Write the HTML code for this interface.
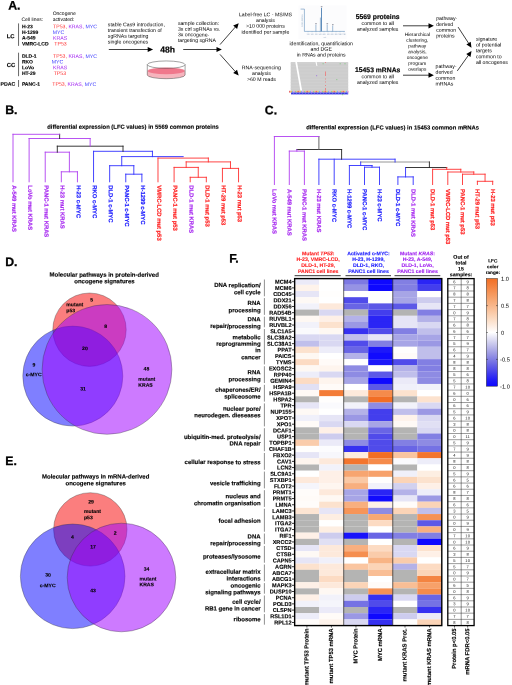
<!DOCTYPE html>
<html><head><meta charset="utf-8"><title>Figure</title>
<style>
html,body{margin:0;padding:0;background:#fff;}
body{width:512px;height:685px;overflow:hidden;}
svg{display:block;text-rendering:geometricPrecision;font-family:'Liberation Sans', Arial, sans-serif;}
</style></head><body>
<svg width="512" height="685" viewBox="0 0 512 685">
<rect width="512" height="685" fill="#fff"/>
<g>
<text x="8.20" y="9.60" transform="rotate(0.05 8.20 9.60)" font-size="12.3" font-weight="bold" fill="#000" text-anchor="start"  stroke="#000" stroke-width="0.271">A.</text>
<text x="21.50" y="20.90" transform="rotate(0.05 21.50 20.90)" font-size="5.0" font-weight="normal" fill="#000" text-anchor="start" >Cell lines:</text>
<text x="52.70" y="14.90" transform="rotate(0.05 52.70 14.90)" font-size="5.0" font-weight="normal" fill="#000" text-anchor="start" >Oncogene</text>
<text x="52.70" y="20.90" transform="rotate(0.05 52.70 20.90)" font-size="5.0" font-weight="normal" fill="#000" text-anchor="start" >activated:</text>
<text x="21.90" y="28.20" transform="rotate(0.05 21.90 28.20)" font-size="5.0" font-weight="bold" fill="#000" text-anchor="start"  stroke="#000" stroke-width="0.110">H-23</text>
<text x="53.1" y="28.27" transform="rotate(0.05 53.1 28.27)" font-size="5.2" xml:space="preserve"><tspan fill="#ff2e2e">TP53,</tspan> <tspan fill="#a020f0">KRAS,</tspan> <tspan fill="#3a3aff">MYC</tspan></text>
<text x="21.90" y="34.00" transform="rotate(0.05 21.90 34.00)" font-size="5.0" font-weight="bold" fill="#000" text-anchor="start"  stroke="#000" stroke-width="0.110">H-1299</text>
<text x="52.7" y="34.07" transform="rotate(0.05 52.7 34.07)" font-size="5.2" xml:space="preserve"><tspan fill="#3a3aff">MYC</tspan></text>
<text x="21.90" y="39.60" transform="rotate(0.05 21.90 39.60)" font-size="5.0" font-weight="bold" fill="#000" text-anchor="start"  stroke="#000" stroke-width="0.110">A-549</text>
<text x="53.1" y="39.67" transform="rotate(0.05 53.1 39.67)" font-size="5.2" xml:space="preserve"><tspan fill="#a020f0">KRAS</tspan></text>
<text x="21.90" y="45.40" transform="rotate(0.05 21.90 45.40)" font-size="5.0" font-weight="bold" fill="#000" text-anchor="start"  stroke="#000" stroke-width="0.110">VMRC-LCD</text>
<text x="54.3" y="45.47" transform="rotate(0.05 54.3 45.47)" font-size="5.2" xml:space="preserve"><tspan fill="#ff2e2e">TP53</tspan></text>
<text x="21.90" y="57.80" transform="rotate(0.05 21.90 57.80)" font-size="5.0" font-weight="bold" fill="#000" text-anchor="start"  stroke="#000" stroke-width="0.110">DLD-1</text>
<text x="53.1" y="57.87" transform="rotate(0.05 53.1 57.87)" font-size="5.2" xml:space="preserve"><tspan fill="#ff2e2e">TP53,</tspan> <tspan fill="#a020f0">KRAS,</tspan> <tspan fill="#3a3aff">MYC</tspan></text>
<text x="21.90" y="63.50" transform="rotate(0.05 21.90 63.50)" font-size="5.0" font-weight="bold" fill="#000" text-anchor="start"  stroke="#000" stroke-width="0.110">RKO</text>
<text x="51.8" y="63.57" transform="rotate(0.05 51.8 63.57)" font-size="5.2" xml:space="preserve"><tspan fill="#3a3aff">MYC</tspan></text>
<text x="21.90" y="69.20" transform="rotate(0.05 21.90 69.20)" font-size="5.0" font-weight="bold" fill="#000" text-anchor="start"  stroke="#000" stroke-width="0.110">LoVo</text>
<text x="53.1" y="69.27" transform="rotate(0.05 53.1 69.27)" font-size="5.2" xml:space="preserve"><tspan fill="#a020f0">KRAS</tspan></text>
<text x="21.90" y="75.00" transform="rotate(0.05 21.90 75.00)" font-size="5.0" font-weight="bold" fill="#000" text-anchor="start"  stroke="#000" stroke-width="0.110">HT-29</text>
<text x="53.7" y="75.07" transform="rotate(0.05 53.7 75.07)" font-size="5.2" xml:space="preserve"><tspan fill="#ff2e2e">TP53</tspan></text>
<text x="21.90" y="85.80" transform="rotate(0.05 21.90 85.80)" font-size="5.0" font-weight="bold" fill="#000" text-anchor="start"  stroke="#000" stroke-width="0.110">PANC-1</text>
<text x="52.3" y="85.87" transform="rotate(0.05 52.3 85.87)" font-size="5.2" xml:space="preserve"><tspan fill="#ff2e2e">TP53,</tspan> <tspan fill="#a020f0">KRAS,</tspan> <tspan fill="#3a3aff">MYC</tspan></text>
<text x="6.80" y="38.21" transform="rotate(0.05 6.80 38.21)" font-size="5.85" font-weight="bold" fill="#000" text-anchor="start"  stroke="#000" stroke-width="0.129">LC</text>
<text x="6.80" y="66.91" transform="rotate(0.05 6.80 66.91)" font-size="5.85" font-weight="bold" fill="#000" text-anchor="start"  stroke="#000" stroke-width="0.129">CC</text>
<text x="0.60" y="85.87" transform="rotate(0.05 0.60 85.87)" font-size="5.2" font-weight="bold" fill="#000" text-anchor="start"  stroke="#000" stroke-width="0.114">PDAC</text>
<line x1="18.55" y1="23.40" x2="18.55" y2="45.90" stroke="#000" stroke-width="0.6" />
<line x1="18.55" y1="52.70" x2="18.55" y2="76.20" stroke="#000" stroke-width="0.6" />
<line x1="18.55" y1="80.00" x2="18.55" y2="86.90" stroke="#000" stroke-width="0.6" />
<text x="107.80" y="26.17" transform="rotate(0.05 107.80 26.17)" font-size="5.2" font-weight="normal" fill="#000" text-anchor="start" >stable Cas9 introduction,</text>
<text x="107.80" y="31.92" transform="rotate(0.05 107.80 31.92)" font-size="5.2" font-weight="normal" fill="#000" text-anchor="start" >transient transfection of</text>
<text x="107.80" y="37.67" transform="rotate(0.05 107.80 37.67)" font-size="5.2" font-weight="normal" fill="#000" text-anchor="start" >sgRNAs targeting</text>
<text x="107.80" y="43.42" transform="rotate(0.05 107.80 43.42)" font-size="5.2" font-weight="normal" fill="#000" text-anchor="start" >single oncogenes</text>
<line x1="108.80" y1="49.50" x2="148.20" y2="49.50" stroke="#000" stroke-width="0.75" />
<polygon points="153.10,49.50 147.70,52.10 147.70,46.90" fill="#000"/>
<text x="160.20" y="52.40" transform="rotate(0.05 160.20 52.40)" font-size="8.6" font-weight="bold" fill="#000" text-anchor="start"  stroke="#000" stroke-width="0.189">48h</text>
<path d="M147.29999999999998,75 A18.9,3.7 0 0 0 185.1,75 L185.1,71 A18.9,3.4000000000000004 0 0 0 147.29999999999998,71 Z" fill="#f6b4bd"/>
<ellipse cx="166.2" cy="71" rx="18.299999999999997" ry="3.3000000000000003" fill="#f0788c"/>
<ellipse cx="166.2" cy="64.65" rx="18.9" ry="3.7" fill="none" stroke="#444" stroke-width="0.5"/>
<path d="M147.29999999999998,64.65 L147.29999999999998,75 A18.9,3.7 0 0 0 185.1,75 L185.1,64.65" fill="none" stroke="#444" stroke-width="0.5"/>
<text x="177.90" y="25.07" transform="rotate(0.05 177.90 25.07)" font-size="5.2" font-weight="normal" fill="#000" text-anchor="start" >sample collection:</text>
<text x="177.90" y="30.72" transform="rotate(0.05 177.90 30.72)" font-size="5.2" font-weight="normal" fill="#000" text-anchor="start" >3x ctrl sgRNAs vs.</text>
<text x="177.90" y="36.37" transform="rotate(0.05 177.90 36.37)" font-size="5.2" font-weight="normal" fill="#000" text-anchor="start" >3x oncogene-</text>
<text x="177.90" y="42.02" transform="rotate(0.05 177.90 42.02)" font-size="5.2" font-weight="normal" fill="#000" text-anchor="start" >targeting sgRNA</text>
<line x1="183.20" y1="49.50" x2="217.00" y2="49.50" stroke="#000" stroke-width="0.75" />
<polygon points="221.90,49.50 216.50,52.10 216.50,46.90" fill="#000"/>
<line x1="220.00" y1="44.60" x2="235.48" y2="26.89" stroke="#000" stroke-width="0.75" />
<polygon points="238.70,23.20 237.10,28.98 233.19,25.56" fill="#000"/>
<line x1="220.00" y1="54.40" x2="235.44" y2="71.74" stroke="#000" stroke-width="0.75" />
<polygon points="238.70,75.40 233.17,73.10 237.05,69.64" fill="#000"/>
<text x="265.40" y="16.17" transform="rotate(0.05 265.40 16.17)" font-size="5.2" font-weight="normal" fill="#000" text-anchor="middle" >Label-free LC - MS/MS</text>
<text x="265.40" y="22.02" transform="rotate(0.05 265.40 22.02)" font-size="5.2" font-weight="normal" fill="#000" text-anchor="middle" >analysis</text>
<text x="265.40" y="27.87" transform="rotate(0.05 265.40 27.87)" font-size="5.2" font-weight="normal" fill="#000" text-anchor="middle" >&gt;10 000 proteins</text>
<text x="265.40" y="33.72" transform="rotate(0.05 265.40 33.72)" font-size="5.2" font-weight="normal" fill="#000" text-anchor="middle" >identified per sample</text>
<text x="261.40" y="69.27" transform="rotate(0.05 261.40 69.27)" font-size="5.2" font-weight="normal" fill="#000" text-anchor="middle" >RNA-sequencing</text>
<text x="261.40" y="75.12" transform="rotate(0.05 261.40 75.12)" font-size="5.2" font-weight="normal" fill="#000" text-anchor="middle" >analysis</text>
<text x="261.40" y="80.97" transform="rotate(0.05 261.40 80.97)" font-size="5.2" font-weight="normal" fill="#000" text-anchor="middle" >&gt;60 M reads</text>
<rect x="298.5" y="5.5" width="48" height="33.5" fill="#fcfcfd"/>
<line x1="304.40" y1="9.10" x2="304.40" y2="31.40" stroke="#5f8dbb" stroke-width="0.6" />
<line x1="304.40" y1="31.40" x2="344.80" y2="31.40" stroke="#5f8dbb" stroke-width="0.6" />
<line x1="300.60" y1="9.10" x2="304.40" y2="9.10" stroke="#5f8dbb" stroke-width="0.6" />
<line x1="315.90" y1="24.60" x2="315.90" y2="31.40" stroke="#5f8dbb" stroke-width="0.6" />
<line x1="320.40" y1="17.60" x2="320.40" y2="31.40" stroke="#5f8dbb" stroke-width="0.6" />
<line x1="321.50" y1="7.80" x2="321.50" y2="31.40" stroke="#5f8dbb" stroke-width="1.0" />
<line x1="327.20" y1="24.60" x2="327.20" y2="31.40" stroke="#5f8dbb" stroke-width="0.6" />
<line x1="332.70" y1="25.60" x2="332.70" y2="31.40" stroke="#5f8dbb" stroke-width="0.6" />
<rect x="315.2" y="23.5" width="1.6" height="0.6" fill="#556"/>
<rect x="320.8" y="6.5" width="1.6" height="0.6" fill="#556"/>
<rect x="326.5" y="23.5" width="1.6" height="0.6" fill="#556"/>
<rect x="332.0" y="24.5" width="1.6" height="0.6" fill="#556"/>
<line x1="308.00" y1="31.40" x2="308.00" y2="32.30" stroke="#5f8dbb" stroke-width="0.3" />
<line x1="312.00" y1="31.40" x2="312.00" y2="32.30" stroke="#5f8dbb" stroke-width="0.3" />
<line x1="316.00" y1="31.40" x2="316.00" y2="32.30" stroke="#5f8dbb" stroke-width="0.3" />
<line x1="320.00" y1="31.40" x2="320.00" y2="32.30" stroke="#5f8dbb" stroke-width="0.3" />
<line x1="324.00" y1="31.40" x2="324.00" y2="32.30" stroke="#5f8dbb" stroke-width="0.3" />
<line x1="328.00" y1="31.40" x2="328.00" y2="32.30" stroke="#5f8dbb" stroke-width="0.3" />
<line x1="332.00" y1="31.40" x2="332.00" y2="32.30" stroke="#5f8dbb" stroke-width="0.3" />
<line x1="336.00" y1="31.40" x2="336.00" y2="32.30" stroke="#5f8dbb" stroke-width="0.3" />
<line x1="340.00" y1="31.40" x2="340.00" y2="32.30" stroke="#5f8dbb" stroke-width="0.3" />
<line x1="344.00" y1="31.40" x2="344.00" y2="32.30" stroke="#5f8dbb" stroke-width="0.3" />
<text x="308.00" y="34.70" transform="rotate(0.05 308.00 34.70)" font-size="1.5" font-weight="normal" fill="#5f7fa4" text-anchor="middle" >200</text>
<text x="312.00" y="34.70" transform="rotate(0.05 312.00 34.70)" font-size="1.5" font-weight="normal" fill="#5f7fa4" text-anchor="middle" >300</text>
<text x="316.00" y="34.70" transform="rotate(0.05 316.00 34.70)" font-size="1.5" font-weight="normal" fill="#5f7fa4" text-anchor="middle" >400</text>
<text x="320.00" y="34.70" transform="rotate(0.05 320.00 34.70)" font-size="1.5" font-weight="normal" fill="#5f7fa4" text-anchor="middle" >500</text>
<text x="324.00" y="34.70" transform="rotate(0.05 324.00 34.70)" font-size="1.5" font-weight="normal" fill="#5f7fa4" text-anchor="middle" >600</text>
<text x="328.00" y="34.70" transform="rotate(0.05 328.00 34.70)" font-size="1.5" font-weight="normal" fill="#5f7fa4" text-anchor="middle" >700</text>
<text x="332.00" y="34.70" transform="rotate(0.05 332.00 34.70)" font-size="1.5" font-weight="normal" fill="#5f7fa4" text-anchor="middle" >800</text>
<text x="336.00" y="34.70" transform="rotate(0.05 336.00 34.70)" font-size="1.5" font-weight="normal" fill="#5f7fa4" text-anchor="middle" >900</text>
<text x="340.00" y="34.70" transform="rotate(0.05 340.00 34.70)" font-size="1.5" font-weight="normal" fill="#5f7fa4" text-anchor="middle" >1000</text>
<text x="344.00" y="34.70" transform="rotate(0.05 344.00 34.70)" font-size="1.5" font-weight="normal" fill="#5f7fa4" text-anchor="middle" >1100</text>
<text x="324.90" y="37.90" transform="rotate(0.05 324.90 37.90)" font-size="1.6" font-weight="normal" fill="#5f7fa4" text-anchor="middle" >m/z</text>
<text transform="translate(302.4,20.5) rotate(-89.95)" font-size="1.4" fill="#7f9bbb" text-anchor="middle">Relative abundance</text>
<text x="321.20" y="45.17" transform="rotate(0.05 321.20 45.17)" font-size="5.2" font-weight="normal" fill="#000" text-anchor="middle" >identification, quantificiation</text>
<text x="321.20" y="50.82" transform="rotate(0.05 321.20 50.82)" font-size="5.2" font-weight="normal" fill="#000" text-anchor="middle" >and DGE</text>
<text x="321.20" y="56.47" transform="rotate(0.05 321.20 56.47)" font-size="5.2" font-weight="normal" fill="#000" text-anchor="middle" >in RNAs and proteins</text>
<rect x="290.7" y="62.1" width="57.5" height="28.7" fill="#cdcdcd"/>
<rect x="290.7" y="63.50" width="57.5" height="0.4" fill="#d4d4d4"/>
<rect x="290.7" y="66.60" width="57.5" height="0.4" fill="#d4d4d4"/>
<rect x="290.7" y="69.70" width="57.5" height="0.4" fill="#d4d4d4"/>
<rect x="290.7" y="72.80" width="57.5" height="0.4" fill="#d4d4d4"/>
<rect x="290.7" y="75.90" width="57.5" height="0.4" fill="#d4d4d4"/>
<rect x="290.7" y="79.00" width="57.5" height="0.4" fill="#d4d4d4"/>
<rect x="290.7" y="82.10" width="57.5" height="0.4" fill="#d4d4d4"/>
<rect x="290.7" y="85.20" width="57.5" height="0.4" fill="#d4d4d4"/>
<rect x="290.7" y="88.30" width="57.5" height="0.4" fill="#d4d4d4"/>
<polygon points="295.3,62.1 297.0,62.1 302.2,90.8 300.4,90.8" fill="#fff"/>
<polygon points="315.5,62.1 316.6,62.1 317.4,66 316.5,66" fill="#fff"/>
<line x1="325.50" y1="62.10" x2="325.50" y2="63.00" stroke="#f06868" stroke-width="0.7" />
<line x1="325.50" y1="71.50" x2="325.50" y2="76.00" stroke="#f06868" stroke-width="0.7" />
<line x1="325.50" y1="78.50" x2="325.50" y2="79.50" stroke="#f06868" stroke-width="0.7" />
<line x1="325.50" y1="81.50" x2="325.50" y2="82.50" stroke="#f06868" stroke-width="0.7" />
<line x1="325.50" y1="85.00" x2="325.50" y2="86.00" stroke="#f06868" stroke-width="0.7" />
<line x1="325.50" y1="88.00" x2="325.50" y2="90.50" stroke="#f06868" stroke-width="0.7" />
<rect x="322.6" y="63.4" width="1" height="0.8" fill="#6ec56e"/>
<rect x="339.7" y="63.4" width="1" height="0.8" fill="#6ec56e"/>
<rect x="344.5" y="63.4" width="1" height="0.8" fill="#6ec56e"/>
<rect x="336.3" y="79.3" width="1" height="0.8" fill="#6ec56e"/>
<rect x="316.2" y="75.2" width="0.9" height="1" fill="#9a6adf"/>
<rect x="289.00" y="90.8" width="1.49" height="1.8" fill="#e86a6a"/>
<rect x="290.49" y="90.8" width="1.49" height="1.8" fill="#e8c050"/>
<rect x="291.98" y="90.8" width="1.49" height="1.8" fill="#7fb0e8"/>
<rect x="293.47" y="90.8" width="1.49" height="1.8" fill="#e88fd0"/>
<rect x="294.96" y="90.8" width="1.49" height="1.8" fill="#8ed08e"/>
<rect x="296.45" y="90.8" width="1.49" height="1.8" fill="#e8a060"/>
<rect x="297.94" y="90.8" width="1.49" height="1.8" fill="#e86a6a"/>
<rect x="299.43" y="90.8" width="1.49" height="1.8" fill="#e8c050"/>
<rect x="300.92" y="90.8" width="1.49" height="1.8" fill="#7fb0e8"/>
<rect x="302.41" y="90.8" width="1.49" height="1.8" fill="#e88fd0"/>
<rect x="303.90" y="90.8" width="1.49" height="1.8" fill="#8ed08e"/>
<rect x="305.39" y="90.8" width="1.49" height="1.8" fill="#e8a060"/>
<rect x="306.88" y="90.8" width="1.49" height="1.8" fill="#e86a6a"/>
<rect x="308.37" y="90.8" width="1.49" height="1.8" fill="#e8c050"/>
<rect x="309.86" y="90.8" width="1.49" height="1.8" fill="#7fb0e8"/>
<rect x="311.35" y="90.8" width="1.49" height="1.8" fill="#e88fd0"/>
<rect x="312.84" y="90.8" width="1.49" height="1.8" fill="#8ed08e"/>
<rect x="314.33" y="90.8" width="1.49" height="1.8" fill="#e8a060"/>
<rect x="315.82" y="90.8" width="1.49" height="1.8" fill="#e86a6a"/>
<rect x="317.31" y="90.8" width="1.49" height="1.8" fill="#e8c050"/>
<rect x="318.80" y="90.8" width="1.49" height="1.8" fill="#7fb0e8"/>
<rect x="320.29" y="90.8" width="1.49" height="1.8" fill="#e88fd0"/>
<rect x="321.78" y="90.8" width="1.49" height="1.8" fill="#8ed08e"/>
<rect x="323.27" y="90.8" width="1.49" height="1.8" fill="#e8a060"/>
<rect x="324.76" y="90.8" width="1.49" height="1.8" fill="#e86a6a"/>
<rect x="326.25" y="90.8" width="1.49" height="1.8" fill="#e8c050"/>
<rect x="327.74" y="90.8" width="1.49" height="1.8" fill="#7fb0e8"/>
<rect x="329.23" y="90.8" width="1.49" height="1.8" fill="#e88fd0"/>
<rect x="330.72" y="90.8" width="1.49" height="1.8" fill="#8ed08e"/>
<rect x="332.21" y="90.8" width="1.49" height="1.8" fill="#e8a060"/>
<rect x="333.70" y="90.8" width="1.49" height="1.8" fill="#e86a6a"/>
<rect x="335.19" y="90.8" width="1.49" height="1.8" fill="#e8c050"/>
<rect x="336.68" y="90.8" width="1.49" height="1.8" fill="#7fb0e8"/>
<rect x="338.17" y="90.8" width="1.49" height="1.8" fill="#e88fd0"/>
<rect x="339.66" y="90.8" width="1.49" height="1.8" fill="#8ed08e"/>
<rect x="341.15" y="90.8" width="1.49" height="1.8" fill="#e8a060"/>
<rect x="342.64" y="90.8" width="1.49" height="1.8" fill="#e86a6a"/>
<rect x="344.13" y="90.8" width="1.49" height="1.8" fill="#e8c050"/>
<rect x="345.62" y="90.8" width="1.49" height="1.8" fill="#7fb0e8"/>
<rect x="347.11" y="90.8" width="1.49" height="1.8" fill="#e88fd0"/>
<rect x="291" y="92.5" width="57.2" height="1.9" fill="#3b3be0"/>
<rect x="293.20" y="92.5" width="0.5" height="1.9" fill="#8f8ff0"/>
<rect x="296.20" y="92.5" width="0.5" height="1.9" fill="#8f8ff0"/>
<rect x="299.20" y="92.5" width="0.5" height="1.9" fill="#8f8ff0"/>
<rect x="302.20" y="92.5" width="0.5" height="1.9" fill="#8f8ff0"/>
<rect x="305.20" y="92.5" width="0.5" height="1.9" fill="#8f8ff0"/>
<rect x="308.20" y="92.5" width="0.5" height="1.9" fill="#8f8ff0"/>
<rect x="311.20" y="92.5" width="0.5" height="1.9" fill="#8f8ff0"/>
<rect x="314.20" y="92.5" width="0.5" height="1.9" fill="#8f8ff0"/>
<rect x="317.20" y="92.5" width="0.5" height="1.9" fill="#8f8ff0"/>
<rect x="320.20" y="92.5" width="0.5" height="1.9" fill="#8f8ff0"/>
<rect x="323.20" y="92.5" width="0.5" height="1.9" fill="#8f8ff0"/>
<rect x="326.20" y="92.5" width="0.5" height="1.9" fill="#8f8ff0"/>
<rect x="329.20" y="92.5" width="0.5" height="1.9" fill="#8f8ff0"/>
<rect x="332.20" y="92.5" width="0.5" height="1.9" fill="#8f8ff0"/>
<rect x="335.20" y="92.5" width="0.5" height="1.9" fill="#8f8ff0"/>
<rect x="338.20" y="92.5" width="0.5" height="1.9" fill="#8f8ff0"/>
<rect x="341.20" y="92.5" width="0.5" height="1.9" fill="#8f8ff0"/>
<rect x="344.20" y="92.5" width="0.5" height="1.9" fill="#8f8ff0"/>
<rect x="347.20" y="92.5" width="0.5" height="1.9" fill="#8f8ff0"/>
<rect x="342.2" y="94.2" width="1" height="1" fill="#5fd05f"/>
<text x="377.70" y="19.05" transform="rotate(0.05 377.70 19.05)" font-size="6.8" font-weight="bold" fill="#000" text-anchor="middle"  stroke="#000" stroke-width="0.150">5569 proteins</text>
<text x="377.70" y="24.97" transform="rotate(0.05 377.70 24.97)" font-size="5.2" font-weight="normal" fill="#000" text-anchor="middle" >common to all</text>
<text x="377.70" y="30.87" transform="rotate(0.05 377.70 30.87)" font-size="5.2" font-weight="normal" fill="#000" text-anchor="middle" >analyzed samples</text>
<text x="377.70" y="72.15" transform="rotate(0.05 377.70 72.15)" font-size="6.8" font-weight="bold" fill="#000" text-anchor="middle"  stroke="#000" stroke-width="0.150">15453 mRNAs</text>
<text x="377.70" y="78.37" transform="rotate(0.05 377.70 78.37)" font-size="5.2" font-weight="normal" fill="#000" text-anchor="middle" >common to all</text>
<text x="377.70" y="83.97" transform="rotate(0.05 377.70 83.97)" font-size="5.2" font-weight="normal" fill="#000" text-anchor="middle" >analyzed samples</text>
<line x1="403.00" y1="25.80" x2="429.00" y2="25.80" stroke="#000" stroke-width="0.75" />
<polygon points="433.90,25.80 428.50,28.40 428.50,23.20" fill="#000"/>
<line x1="403.00" y1="75.20" x2="429.00" y2="75.20" stroke="#000" stroke-width="0.75" />
<polygon points="433.90,75.20 428.50,77.80 428.50,72.60" fill="#000"/>
<text x="417.30" y="36.03" transform="rotate(0.05 417.30 36.03)" font-size="4.8" font-weight="normal" fill="#000" text-anchor="middle" >Hierarchical</text>
<text x="417.30" y="41.80" transform="rotate(0.05 417.30 41.80)" font-size="4.8" font-weight="normal" fill="#000" text-anchor="middle" >clustering,</text>
<text x="417.30" y="47.57" transform="rotate(0.05 417.30 47.57)" font-size="4.8" font-weight="normal" fill="#000" text-anchor="middle" >pathway</text>
<text x="417.30" y="53.34" transform="rotate(0.05 417.30 53.34)" font-size="4.8" font-weight="normal" fill="#000" text-anchor="middle" >analysis,</text>
<text x="417.30" y="59.11" transform="rotate(0.05 417.30 59.11)" font-size="4.8" font-weight="normal" fill="#000" text-anchor="middle" >oncogene</text>
<text x="417.30" y="64.88" transform="rotate(0.05 417.30 64.88)" font-size="4.8" font-weight="normal" fill="#000" text-anchor="middle" >program</text>
<text x="417.30" y="70.65" transform="rotate(0.05 417.30 70.65)" font-size="4.8" font-weight="normal" fill="#000" text-anchor="middle" >overlaps</text>
<text x="436.20" y="20.07" transform="rotate(0.05 436.20 20.07)" font-size="5.2" font-weight="normal" fill="#000" text-anchor="start" >pathway-</text>
<text x="436.20" y="25.92" transform="rotate(0.05 436.20 25.92)" font-size="5.2" font-weight="normal" fill="#000" text-anchor="start" >derived</text>
<text x="436.20" y="31.77" transform="rotate(0.05 436.20 31.77)" font-size="5.2" font-weight="normal" fill="#000" text-anchor="start" >common</text>
<text x="436.20" y="37.62" transform="rotate(0.05 436.20 37.62)" font-size="5.2" font-weight="normal" fill="#000" text-anchor="start" >proteins</text>
<text x="435.50" y="68.07" transform="rotate(0.05 435.50 68.07)" font-size="5.2" font-weight="normal" fill="#000" text-anchor="start" >pathway-</text>
<text x="435.50" y="73.87" transform="rotate(0.05 435.50 73.87)" font-size="5.2" font-weight="normal" fill="#000" text-anchor="start" >derived</text>
<text x="435.50" y="79.67" transform="rotate(0.05 435.50 79.67)" font-size="5.2" font-weight="normal" fill="#000" text-anchor="start" >common</text>
<text x="435.50" y="85.47" transform="rotate(0.05 435.50 85.47)" font-size="5.2" font-weight="normal" fill="#000" text-anchor="start" >mRNAs</text>
<line x1="458.10" y1="27.10" x2="468.83" y2="43.59" stroke="#000" stroke-width="0.75" />
<polygon points="471.50,47.70 466.38,44.59 470.73,41.76" fill="#000"/>
<line x1="457.30" y1="70.90" x2="468.65" y2="54.99" stroke="#000" stroke-width="0.75" />
<polygon points="471.50,51.00 470.48,56.91 466.25,53.89" fill="#000"/>
<text x="475.90" y="40.67" transform="rotate(0.05 475.90 40.67)" font-size="5.2" font-weight="normal" fill="#000" text-anchor="start" >signature</text>
<text x="475.90" y="46.52" transform="rotate(0.05 475.90 46.52)" font-size="5.2" font-weight="normal" fill="#000" text-anchor="start" >of potential</text>
<text x="475.90" y="52.37" transform="rotate(0.05 475.90 52.37)" font-size="5.2" font-weight="normal" fill="#000" text-anchor="start" >targets</text>
<text x="475.90" y="58.22" transform="rotate(0.05 475.90 58.22)" font-size="5.2" font-weight="normal" fill="#000" text-anchor="start" >common to</text>
<text x="475.90" y="64.07" transform="rotate(0.05 475.90 64.07)" font-size="5.2" font-weight="normal" fill="#000" text-anchor="start" >all oncogenes</text>
<text x="5.20" y="114.10" transform="rotate(0.05 5.20 114.10)" font-size="12.3" font-weight="bold" fill="#000" text-anchor="start"  stroke="#000" stroke-width="0.271">B.</text>
<text x="133.00" y="128.81" transform="rotate(0.05 133.00 128.81)" font-size="5.87" font-weight="bold" fill="#000" text-anchor="middle"  stroke="#000" stroke-width="0.129">differential expression (LFC values) in 5569 common proteins</text>
<text transform="translate(12.20,185.30) rotate(90.05)" font-size="5.87" font-weight="bold" fill="#a628f0" stroke="#a628f0" stroke-width="0.18">A-549 mut KRAS</text>
<text transform="translate(28.31,185.30) rotate(90.05)" font-size="5.87" font-weight="bold" fill="#a628f0" stroke="#a628f0" stroke-width="0.18">LoVo mut KRAS</text>
<text transform="translate(44.42,185.30) rotate(90.05)" font-size="5.87" font-weight="bold" fill="#a628f0" stroke="#a628f0" stroke-width="0.18">PANC-1 mut KRAS</text>
<text transform="translate(60.53,185.30) rotate(90.05)" font-size="5.87" font-weight="bold" fill="#a628f0" stroke="#a628f0" stroke-width="0.18">H-23 mut KRAS</text>
<text transform="translate(76.64,185.30) rotate(90.05)" font-size="5.87" font-weight="bold" fill="#2020ff" stroke="#2020ff" stroke-width="0.18">H-23 c-MYC</text>
<text transform="translate(92.75,185.30) rotate(90.05)" font-size="5.87" font-weight="bold" fill="#2020ff" stroke="#2020ff" stroke-width="0.18">RKO c-MYC</text>
<text transform="translate(108.86,185.30) rotate(90.05)" font-size="5.87" font-weight="bold" fill="#2020ff" stroke="#2020ff" stroke-width="0.18">DLD-1 c-MYC</text>
<text transform="translate(124.97,185.30) rotate(90.05)" font-size="5.87" font-weight="bold" fill="#2020ff" stroke="#2020ff" stroke-width="0.18">PANC-1 c-MYC</text>
<text transform="translate(141.08,185.30) rotate(90.05)" font-size="5.87" font-weight="bold" fill="#2020ff" stroke="#2020ff" stroke-width="0.18">H-1299 c-MYC</text>
<text transform="translate(157.19,185.30) rotate(90.05)" font-size="5.87" font-weight="bold" fill="#ff2020" stroke="#ff2020" stroke-width="0.18">VMRC-LCD mut p53</text>
<text transform="translate(173.30,185.30) rotate(90.05)" font-size="5.87" font-weight="bold" fill="#ff2020" stroke="#ff2020" stroke-width="0.18">PANC-1 mut p53</text>
<text transform="translate(189.41,185.30) rotate(90.05)" font-size="5.87" font-weight="bold" fill="#a628f0" stroke="#a628f0" stroke-width="0.18">DLD-1 mut KRAS</text>
<text transform="translate(205.52,185.30) rotate(90.05)" font-size="5.87" font-weight="bold" fill="#ff2020" stroke="#ff2020" stroke-width="0.18">DLD-1 mut p53</text>
<text transform="translate(221.63,185.30) rotate(90.05)" font-size="5.87" font-weight="bold" fill="#ff2020" stroke="#ff2020" stroke-width="0.18">HT-29 mut p53</text>
<text transform="translate(237.74,185.30) rotate(90.05)" font-size="5.87" font-weight="bold" fill="#ff2020" stroke="#ff2020" stroke-width="0.18">H-23 mut p53</text>
<line x1="61.33" y1="171.80" x2="61.33" y2="181.80" stroke="#b040f0" stroke-width="0.9" stroke-linecap="square"/>
<line x1="77.44" y1="171.80" x2="77.44" y2="181.80" stroke="#b040f0" stroke-width="0.9" stroke-linecap="square"/>
<line x1="61.33" y1="171.80" x2="77.44" y2="171.80" stroke="#b040f0" stroke-width="0.9" stroke-linecap="square"/>
<line x1="45.22" y1="152.20" x2="45.22" y2="181.80" stroke="#b040f0" stroke-width="0.9" stroke-linecap="square"/>
<line x1="69.38" y1="152.20" x2="69.38" y2="171.80" stroke="#b040f0" stroke-width="0.9" stroke-linecap="square"/>
<line x1="45.22" y1="152.20" x2="69.38" y2="152.20" stroke="#b040f0" stroke-width="0.9" stroke-linecap="square"/>
<line x1="125.77" y1="174.20" x2="125.77" y2="181.80" stroke="#3030ff" stroke-width="0.9" stroke-linecap="square"/>
<line x1="141.88" y1="174.20" x2="141.88" y2="181.80" stroke="#3030ff" stroke-width="0.9" stroke-linecap="square"/>
<line x1="125.77" y1="174.20" x2="141.88" y2="174.20" stroke="#3030ff" stroke-width="0.9" stroke-linecap="square"/>
<line x1="109.66" y1="165.70" x2="109.66" y2="181.80" stroke="#3030ff" stroke-width="0.9" stroke-linecap="square"/>
<line x1="133.82" y1="165.70" x2="133.82" y2="174.20" stroke="#3030ff" stroke-width="0.9" stroke-linecap="square"/>
<line x1="109.66" y1="165.70" x2="133.82" y2="165.70" stroke="#3030ff" stroke-width="0.9" stroke-linecap="square"/>
<line x1="190.21" y1="177.30" x2="190.21" y2="181.80" stroke="#ff3030" stroke-width="0.9" stroke-linecap="square"/>
<line x1="206.32" y1="177.30" x2="206.32" y2="181.80" stroke="#ff3030" stroke-width="0.9" stroke-linecap="square"/>
<line x1="190.21" y1="177.30" x2="206.32" y2="177.30" stroke="#ff3030" stroke-width="0.9" stroke-linecap="square"/>
<line x1="174.10" y1="167.40" x2="174.10" y2="181.80" stroke="#ff3030" stroke-width="0.9" stroke-linecap="square"/>
<line x1="198.26" y1="167.40" x2="198.26" y2="177.30" stroke="#ff3030" stroke-width="0.9" stroke-linecap="square"/>
<line x1="174.10" y1="167.40" x2="198.26" y2="167.40" stroke="#ff3030" stroke-width="0.9" stroke-linecap="square"/>
<line x1="222.43" y1="168.40" x2="222.43" y2="181.80" stroke="#ff3030" stroke-width="0.9" stroke-linecap="square"/>
<line x1="238.54" y1="168.40" x2="238.54" y2="181.80" stroke="#ff3030" stroke-width="0.9" stroke-linecap="square"/>
<line x1="222.43" y1="168.40" x2="238.54" y2="168.40" stroke="#ff3030" stroke-width="0.9" stroke-linecap="square"/>
<line x1="186.18" y1="161.90" x2="186.18" y2="167.40" stroke="#ff3030" stroke-width="0.9" stroke-linecap="square"/>
<line x1="230.49" y1="161.90" x2="230.49" y2="168.40" stroke="#ff3030" stroke-width="0.9" stroke-linecap="square"/>
<line x1="186.18" y1="161.90" x2="230.49" y2="161.90" stroke="#ff3030" stroke-width="0.9" stroke-linecap="square"/>
<line x1="157.99" y1="158.10" x2="157.99" y2="181.80" stroke="#ff3030" stroke-width="0.9" stroke-linecap="square"/>
<line x1="208.33" y1="158.10" x2="208.33" y2="161.90" stroke="#ff3030" stroke-width="0.9" stroke-linecap="square"/>
<line x1="157.99" y1="158.10" x2="208.33" y2="158.10" stroke="#ff3030" stroke-width="0.9" stroke-linecap="square"/>
<line x1="121.74" y1="156.60" x2="183.16" y2="156.60" stroke="#3030ff" stroke-width="0.9" stroke-linecap="square"/>
<line x1="121.74" y1="156.60" x2="121.74" y2="165.70" stroke="#3030ff" stroke-width="0.9" stroke-linecap="square"/>
<line x1="152.45" y1="151.30" x2="152.45" y2="156.60" stroke="#3030ff" stroke-width="0.9" stroke-linecap="square"/>
<line x1="93.55" y1="151.30" x2="93.55" y2="181.80" stroke="#3030ff" stroke-width="0.9" stroke-linecap="square"/>
<line x1="93.55" y1="151.30" x2="152.45" y2="151.30" stroke="#3030ff" stroke-width="0.9" stroke-linecap="square"/>
<line x1="57.30" y1="146.20" x2="123.00" y2="146.20" stroke="#222" stroke-width="0.9" stroke-linecap="square"/>
<line x1="57.30" y1="146.20" x2="57.30" y2="152.20" stroke="#222" stroke-width="0.9" stroke-linecap="square"/>
<line x1="123.00" y1="146.20" x2="123.00" y2="151.30" stroke="#222" stroke-width="0.9" stroke-linecap="square"/>
<line x1="90.15" y1="138.50" x2="90.15" y2="146.20" stroke="#b040f0" stroke-width="0.9" stroke-linecap="square"/>
<line x1="29.11" y1="138.50" x2="29.11" y2="181.80" stroke="#b040f0" stroke-width="0.9" stroke-linecap="square"/>
<line x1="29.11" y1="138.50" x2="90.15" y2="138.50" stroke="#b040f0" stroke-width="0.9" stroke-linecap="square"/>
<line x1="59.63" y1="134.30" x2="59.63" y2="138.50" stroke="#222" stroke-width="0.9" stroke-linecap="square"/>
<line x1="13.00" y1="134.30" x2="13.00" y2="181.80" stroke="#b040f0" stroke-width="0.9" stroke-linecap="square"/>
<line x1="13.00" y1="134.30" x2="59.63" y2="134.30" stroke="#b040f0" stroke-width="0.9" stroke-linecap="square"/>
<text x="264.80" y="114.30" transform="rotate(0.05 264.80 114.30)" font-size="12.3" font-weight="bold" fill="#000" text-anchor="start"  stroke="#000" stroke-width="0.271">C.</text>
<text x="392.60" y="129.41" transform="rotate(0.05 392.60 129.41)" font-size="5.87" font-weight="bold" fill="#000" text-anchor="middle"  stroke="#000" stroke-width="0.129">differential expression (LFC values) in 15453 common mRNAs</text>
<text transform="translate(272.60,189.00) rotate(90.05)" font-size="5.87" font-weight="bold" fill="#a628f0" stroke="#a628f0" stroke-width="0.18">LoVo mut KRAS</text>
<text transform="translate(287.50,189.00) rotate(90.05)" font-size="5.87" font-weight="bold" fill="#a628f0" stroke="#a628f0" stroke-width="0.18">A-549 mut KRAS</text>
<text transform="translate(302.60,189.00) rotate(90.05)" font-size="5.87" font-weight="bold" fill="#a628f0" stroke="#a628f0" stroke-width="0.18">PANC-1 mut KRAS</text>
<text transform="translate(317.10,189.00) rotate(90.05)" font-size="5.87" font-weight="bold" fill="#a628f0" stroke="#a628f0" stroke-width="0.18">H-23 mut KRAS</text>
<text transform="translate(332.40,189.00) rotate(90.05)" font-size="5.87" font-weight="bold" fill="#2020ff" stroke="#2020ff" stroke-width="0.18">RKO c-MYC</text>
<text transform="translate(347.60,189.00) rotate(90.05)" font-size="5.87" font-weight="bold" fill="#2020ff" stroke="#2020ff" stroke-width="0.18">H-1299 c-MYC</text>
<text transform="translate(362.70,189.00) rotate(90.05)" font-size="5.87" font-weight="bold" fill="#2020ff" stroke="#2020ff" stroke-width="0.18">PANC-1 c-MYC</text>
<text transform="translate(377.70,189.00) rotate(90.05)" font-size="5.87" font-weight="bold" fill="#2020ff" stroke="#2020ff" stroke-width="0.18">H-23 c-MYC</text>
<text transform="translate(396.10,189.00) rotate(90.05)" font-size="5.87" font-weight="bold" fill="#2020ff" stroke="#2020ff" stroke-width="0.18">DLD-1 c-MYC</text>
<text transform="translate(411.40,189.00) rotate(90.05)" font-size="5.87" font-weight="bold" fill="#a628f0" stroke="#a628f0" stroke-width="0.18">DLD-1 mut KRAS</text>
<text transform="translate(430.80,189.00) rotate(90.05)" font-size="5.87" font-weight="bold" fill="#ff2020" stroke="#ff2020" stroke-width="0.18">DLD-1 mut p53</text>
<text transform="translate(446.00,189.00) rotate(90.05)" font-size="5.87" font-weight="bold" fill="#ff2020" stroke="#ff2020" stroke-width="0.18">VMRC-LCD mut p53</text>
<text transform="translate(460.70,189.00) rotate(90.05)" font-size="5.87" font-weight="bold" fill="#ff2020" stroke="#ff2020" stroke-width="0.18">PANC-1 mut p53</text>
<text transform="translate(475.60,189.00) rotate(90.05)" font-size="5.87" font-weight="bold" fill="#ff2020" stroke="#ff2020" stroke-width="0.18">HT-29 mut p53</text>
<text transform="translate(490.90,189.00) rotate(90.05)" font-size="5.87" font-weight="bold" fill="#ff2020" stroke="#ff2020" stroke-width="0.18">H-23 mut p53</text>
<line x1="289.30" y1="151.10" x2="289.30" y2="184.50" stroke="#b040f0" stroke-width="0.9" stroke-linecap="square"/>
<line x1="304.40" y1="151.10" x2="304.40" y2="184.50" stroke="#b040f0" stroke-width="0.9" stroke-linecap="square"/>
<line x1="289.30" y1="151.10" x2="304.40" y2="151.10" stroke="#b040f0" stroke-width="0.9" stroke-linecap="square"/>
<line x1="364.50" y1="167.20" x2="364.50" y2="184.50" stroke="#3030ff" stroke-width="0.9" stroke-linecap="square"/>
<line x1="379.50" y1="167.20" x2="379.50" y2="184.50" stroke="#3030ff" stroke-width="0.9" stroke-linecap="square"/>
<line x1="364.50" y1="167.20" x2="379.50" y2="167.20" stroke="#3030ff" stroke-width="0.9" stroke-linecap="square"/>
<line x1="349.40" y1="165.50" x2="349.40" y2="184.50" stroke="#3030ff" stroke-width="0.9" stroke-linecap="square"/>
<line x1="372.00" y1="165.50" x2="372.00" y2="167.20" stroke="#3030ff" stroke-width="0.9" stroke-linecap="square"/>
<line x1="349.40" y1="165.50" x2="372.00" y2="165.50" stroke="#3030ff" stroke-width="0.9" stroke-linecap="square"/>
<line x1="397.90" y1="176.90" x2="397.90" y2="184.50" stroke="#3030ff" stroke-width="0.9" stroke-linecap="square"/>
<line x1="413.20" y1="176.90" x2="413.20" y2="184.50" stroke="#3030ff" stroke-width="0.9" stroke-linecap="square"/>
<line x1="397.90" y1="176.90" x2="413.20" y2="176.90" stroke="#3030ff" stroke-width="0.9" stroke-linecap="square"/>
<line x1="477.40" y1="181.30" x2="477.40" y2="184.50" stroke="#ff3030" stroke-width="0.9" stroke-linecap="square"/>
<line x1="492.70" y1="181.30" x2="492.70" y2="184.50" stroke="#ff3030" stroke-width="0.9" stroke-linecap="square"/>
<line x1="477.40" y1="181.30" x2="492.70" y2="181.30" stroke="#ff3030" stroke-width="0.9" stroke-linecap="square"/>
<line x1="462.50" y1="174.20" x2="462.50" y2="184.50" stroke="#ff3030" stroke-width="0.9" stroke-linecap="square"/>
<line x1="485.05" y1="174.20" x2="485.05" y2="181.30" stroke="#ff3030" stroke-width="0.9" stroke-linecap="square"/>
<line x1="462.50" y1="174.20" x2="485.05" y2="174.20" stroke="#ff3030" stroke-width="0.9" stroke-linecap="square"/>
<line x1="447.80" y1="172.00" x2="447.80" y2="184.50" stroke="#ff3030" stroke-width="0.9" stroke-linecap="square"/>
<line x1="473.77" y1="172.00" x2="473.77" y2="174.20" stroke="#ff3030" stroke-width="0.9" stroke-linecap="square"/>
<line x1="447.80" y1="172.00" x2="473.77" y2="172.00" stroke="#ff3030" stroke-width="0.9" stroke-linecap="square"/>
<line x1="432.60" y1="169.30" x2="432.60" y2="184.50" stroke="#ff3030" stroke-width="0.9" stroke-linecap="square"/>
<line x1="460.79" y1="169.30" x2="460.79" y2="172.00" stroke="#ff3030" stroke-width="0.9" stroke-linecap="square"/>
<line x1="432.60" y1="169.30" x2="460.79" y2="169.30" stroke="#ff3030" stroke-width="0.9" stroke-linecap="square"/>
<line x1="405.55" y1="167.50" x2="446.69" y2="167.50" stroke="#222" stroke-width="0.9" stroke-linecap="square"/>
<line x1="405.55" y1="167.50" x2="405.55" y2="176.90" stroke="#3030ff" stroke-width="0.9" stroke-linecap="square"/>
<line x1="446.69" y1="167.50" x2="446.69" y2="169.30" stroke="#ff3030" stroke-width="0.9" stroke-linecap="square"/>
<line x1="360.70" y1="162.00" x2="429.40" y2="162.00" stroke="#8a8a8a" stroke-width="0.9" stroke-linecap="square"/>
<line x1="360.70" y1="162.00" x2="360.70" y2="165.50" stroke="#3030ff" stroke-width="0.9" stroke-linecap="square"/>
<line x1="429.40" y1="162.00" x2="429.40" y2="167.50" stroke="#222" stroke-width="0.9" stroke-linecap="square"/>
<line x1="318.90" y1="159.20" x2="395.05" y2="159.20" stroke="#3030ff" stroke-width="0.9" stroke-linecap="square"/>
<line x1="318.90" y1="159.20" x2="318.90" y2="184.50" stroke="#3030ff" stroke-width="0.9" stroke-linecap="square"/>
<line x1="334.20" y1="159.20" x2="334.20" y2="184.50" stroke="#3030ff" stroke-width="0.9" stroke-linecap="square"/>
<line x1="395.05" y1="159.20" x2="395.05" y2="162.00" stroke="#3030ff" stroke-width="0.9" stroke-linecap="square"/>
<line x1="296.85" y1="149.50" x2="341.60" y2="149.50" stroke="#222" stroke-width="0.9" stroke-linecap="square"/>
<line x1="296.85" y1="149.50" x2="296.85" y2="151.10" stroke="#b040f0" stroke-width="0.9" stroke-linecap="square"/>
<line x1="341.60" y1="149.50" x2="341.60" y2="159.20" stroke="#222" stroke-width="0.9" stroke-linecap="square"/>
<line x1="318.90" y1="136.50" x2="318.90" y2="149.50" stroke="#555" stroke-width="0.9" stroke-linecap="square"/>
<line x1="274.40" y1="136.50" x2="274.40" y2="184.50" stroke="#b040f0" stroke-width="0.9" stroke-linecap="square"/>
<line x1="274.40" y1="136.50" x2="318.90" y2="136.50" stroke="#b040f0" stroke-width="0.9" stroke-linecap="square"/>
<text x="5.20" y="266.10" transform="rotate(0.05 5.20 266.10)" font-size="12.3" font-weight="bold" fill="#000" text-anchor="start"  stroke="#000" stroke-width="0.271">D.</text>
<text x="104.20" y="276.66" transform="rotate(0.05 104.20 276.66)" font-size="6.0" font-weight="bold" fill="#000" text-anchor="middle"  stroke="#000" stroke-width="0.132">Molecular pathways in protein-derived</text>
<text x="104.40" y="283.16" transform="rotate(0.05 104.40 283.16)" font-size="6.0" font-weight="bold" fill="#000" text-anchor="middle"  stroke="#000" stroke-width="0.132">oncogene signatures</text>
<circle cx="89.5" cy="329.7" r="36.7" fill="#f80808" fill-opacity="0.52" stroke="#333" stroke-width="0.35"/>
<circle cx="72.8" cy="376.1" r="50.0" fill="#0000ff" fill-opacity="0.5" stroke="#333" stroke-width="0.35"/>
<circle cx="107.0" cy="369.4" r="64.9" fill="#a000ff" fill-opacity="0.52" stroke="#333" stroke-width="0.35"/>
<text x="91.60" y="301.64" transform="rotate(0.05 91.60 301.64)" font-size="5.1" font-weight="bold" fill="#000" text-anchor="middle"  stroke="#000" stroke-width="0.112">5</text>
<text x="66.30" y="306.14" transform="rotate(0.05 66.30 306.14)" font-size="5.1" font-weight="bold" fill="#000" text-anchor="start"  stroke="#000" stroke-width="0.112">mutant</text>
<text x="66.30" y="312.14" transform="rotate(0.05 66.30 312.14)" font-size="5.1" font-weight="bold" fill="#000" text-anchor="start"  stroke="#000" stroke-width="0.112">p53</text>
<text x="105.60" y="327.94" transform="rotate(0.05 105.60 327.94)" font-size="5.1" font-weight="bold" fill="#000" text-anchor="middle"  stroke="#000" stroke-width="0.112">8</text>
<text x="84.90" y="350.14" transform="rotate(0.05 84.90 350.14)" font-size="5.1" font-weight="bold" fill="#000" text-anchor="middle"  stroke="#000" stroke-width="0.112">20</text>
<text x="33.90" y="366.64" transform="rotate(0.05 33.90 366.64)" font-size="5.1" font-weight="bold" fill="#000" text-anchor="middle"  stroke="#000" stroke-width="0.112">9</text>
<text x="25.80" y="376.14" transform="rotate(0.05 25.80 376.14)" font-size="5.1" font-weight="bold" fill="#000" text-anchor="start"  stroke="#000" stroke-width="0.112">c-MYC</text>
<text x="83.10" y="390.54" transform="rotate(0.05 83.10 390.54)" font-size="5.1" font-weight="bold" fill="#000" text-anchor="middle"  stroke="#000" stroke-width="0.112">31</text>
<text x="146.40" y="370.54" transform="rotate(0.05 146.40 370.54)" font-size="5.1" font-weight="bold" fill="#000" text-anchor="middle"  stroke="#000" stroke-width="0.112">48</text>
<text x="138.30" y="380.74" transform="rotate(0.05 138.30 380.74)" font-size="5.1" font-weight="bold" fill="#000" text-anchor="start"  stroke="#000" stroke-width="0.112">mutant</text>
<text x="138.30" y="386.74" transform="rotate(0.05 138.30 386.74)" font-size="5.1" font-weight="bold" fill="#000" text-anchor="start"  stroke="#000" stroke-width="0.112">KRAS</text>
<text x="5.20" y="464.90" transform="rotate(0.05 5.20 464.90)" font-size="12.3" font-weight="bold" fill="#000" text-anchor="start"  stroke="#000" stroke-width="0.271">E.</text>
<text x="95.70" y="478.46" transform="rotate(0.05 95.70 478.46)" font-size="6.0" font-weight="bold" fill="#000" text-anchor="middle"  stroke="#000" stroke-width="0.132">Molecular pathways in mRNA-derived</text>
<text x="95.70" y="485.16" transform="rotate(0.05 95.70 485.16)" font-size="6.0" font-weight="bold" fill="#000" text-anchor="middle"  stroke="#000" stroke-width="0.132">oncogene signatures</text>
<circle cx="90.3" cy="529.4" r="36.7" fill="#f80808" fill-opacity="0.52" stroke="#333" stroke-width="0.35"/>
<circle cx="72.7" cy="576.3" r="52.3" fill="#0000ff" fill-opacity="0.5" stroke="#333" stroke-width="0.35"/>
<circle cx="121.5" cy="577.5" r="54.3" fill="#a000ff" fill-opacity="0.52" stroke="#333" stroke-width="0.35"/>
<text x="91.00" y="503.54" transform="rotate(0.05 91.00 503.54)" font-size="5.1" font-weight="bold" fill="#000" text-anchor="middle"  stroke="#000" stroke-width="0.112">29</text>
<text x="84.00" y="512.94" transform="rotate(0.05 84.00 512.94)" font-size="5.1" font-weight="bold" fill="#000" text-anchor="start"  stroke="#000" stroke-width="0.112">mutant</text>
<text x="84.00" y="519.14" transform="rotate(0.05 84.00 519.14)" font-size="5.1" font-weight="bold" fill="#000" text-anchor="start"  stroke="#000" stroke-width="0.112">p53</text>
<text x="72.30" y="538.74" transform="rotate(0.05 72.30 538.74)" font-size="5.1" font-weight="bold" fill="#000" text-anchor="middle"  stroke="#000" stroke-width="0.112">4</text>
<text x="115.20" y="534.84" transform="rotate(0.05 115.20 534.84)" font-size="5.1" font-weight="bold" fill="#000" text-anchor="middle"  stroke="#000" stroke-width="0.112">2</text>
<text x="93.00" y="548.44" transform="rotate(0.05 93.00 548.44)" font-size="5.1" font-weight="bold" fill="#000" text-anchor="middle"  stroke="#000" stroke-width="0.112">17</text>
<text x="48.00" y="576.64" transform="rotate(0.05 48.00 576.64)" font-size="5.1" font-weight="bold" fill="#000" text-anchor="middle"  stroke="#000" stroke-width="0.112">30</text>
<text x="39.80" y="587.14" transform="rotate(0.05 39.80 587.14)" font-size="5.1" font-weight="bold" fill="#000" text-anchor="start"  stroke="#000" stroke-width="0.112">c-MYC</text>
<text x="93.00" y="592.24" transform="rotate(0.05 93.00 592.24)" font-size="5.1" font-weight="bold" fill="#000" text-anchor="middle"  stroke="#000" stroke-width="0.112">43</text>
<text x="146.50" y="570.74" transform="rotate(0.05 146.50 570.74)" font-size="5.1" font-weight="bold" fill="#000" text-anchor="middle"  stroke="#000" stroke-width="0.112">34</text>
<text x="139.50" y="580.54" transform="rotate(0.05 139.50 580.54)" font-size="5.1" font-weight="bold" fill="#000" text-anchor="start"  stroke="#000" stroke-width="0.112">mutant</text>
<text x="139.50" y="586.34" transform="rotate(0.05 139.50 586.34)" font-size="5.1" font-weight="bold" fill="#000" text-anchor="start"  stroke="#000" stroke-width="0.112">KRAS</text>
<text x="229.20" y="262.50" transform="rotate(0.05 229.20 262.50)" font-size="12.3" font-weight="bold" fill="#000" text-anchor="start"  stroke="#000" stroke-width="0.271">F.</text>
<text x="318.20" y="255.17" transform="rotate(0.05 318.20 255.17)" font-size="5.2" font-weight="bold" fill="#ff2020" text-anchor="middle"  stroke="#ff2020" stroke-width="0.114">Mutant <tspan font-style="italic">TP53</tspan>:</text>
<text x="318.20" y="261.10" transform="rotate(0.05 318.20 261.10)" font-size="5.2" font-weight="bold" fill="#ff2020" text-anchor="middle"  stroke="#ff2020" stroke-width="0.114">H-23, VMRC-LCD,</text>
<text x="318.20" y="267.03" transform="rotate(0.05 318.20 267.03)" font-size="5.2" font-weight="bold" fill="#ff2020" text-anchor="middle"  stroke="#ff2020" stroke-width="0.114">DLD-1, HT-29,</text>
<text x="318.20" y="272.96" transform="rotate(0.05 318.20 272.96)" font-size="5.2" font-weight="bold" fill="#ff2020" text-anchor="middle"  stroke="#ff2020" stroke-width="0.114">PANC1 cell lines</text>
<text x="368.50" y="255.17" transform="rotate(0.05 368.50 255.17)" font-size="5.2" font-weight="bold" fill="#2020ff" text-anchor="middle"  stroke="#2020ff" stroke-width="0.114">Activated c-MYC:</text>
<text x="368.50" y="261.10" transform="rotate(0.05 368.50 261.10)" font-size="5.2" font-weight="bold" fill="#2020ff" text-anchor="middle"  stroke="#2020ff" stroke-width="0.114">H-23, H-1299,</text>
<text x="368.50" y="267.03" transform="rotate(0.05 368.50 267.03)" font-size="5.2" font-weight="bold" fill="#2020ff" text-anchor="middle"  stroke="#2020ff" stroke-width="0.114">DLD-1, RKO,</text>
<text x="368.50" y="272.96" transform="rotate(0.05 368.50 272.96)" font-size="5.2" font-weight="bold" fill="#2020ff" text-anchor="middle"  stroke="#2020ff" stroke-width="0.114">PANC1 cell lines</text>
<text x="417.50" y="255.17" transform="rotate(0.05 417.50 255.17)" font-size="5.2" font-weight="bold" fill="#a020f0" text-anchor="middle"  stroke="#a020f0" stroke-width="0.114">Mutant <tspan font-style="italic">KRAS</tspan>:</text>
<text x="417.50" y="261.10" transform="rotate(0.05 417.50 261.10)" font-size="5.2" font-weight="bold" fill="#a020f0" text-anchor="middle"  stroke="#a020f0" stroke-width="0.114">H-23, A-549,</text>
<text x="417.50" y="267.03" transform="rotate(0.05 417.50 267.03)" font-size="5.2" font-weight="bold" fill="#a020f0" text-anchor="middle"  stroke="#a020f0" stroke-width="0.114">DLD-1, LoVo,</text>
<text x="417.50" y="272.96" transform="rotate(0.05 417.50 272.96)" font-size="5.2" font-weight="bold" fill="#a020f0" text-anchor="middle"  stroke="#a020f0" stroke-width="0.114">PANC1 cell lines</text>
<line x1="294.60" y1="275.70" x2="340.70" y2="275.70" stroke="#000" stroke-width="0.8" />
<line x1="345.50" y1="275.70" x2="391.00" y2="275.70" stroke="#000" stroke-width="0.8" />
<line x1="394.50" y1="275.70" x2="440.30" y2="275.70" stroke="#000" stroke-width="0.8" />
<rect x="294.65" y="278.60" width="24.57" height="6.25" fill="#ebeaf8"/>
<rect x="319.17" y="278.60" width="24.57" height="6.25" fill="#ffffff"/>
<rect x="343.70" y="278.60" width="24.57" height="6.25" fill="#7d79e3"/>
<rect x="368.22" y="278.60" width="24.57" height="6.25" fill="#0e08ff"/>
<rect x="392.75" y="278.60" width="24.57" height="6.25" fill="#827fe3"/>
<rect x="417.27" y="278.60" width="24.57" height="6.25" fill="#2a25f5"/>
<rect x="294.65" y="284.80" width="24.57" height="6.25" fill="#fef3eb"/>
<rect x="319.17" y="284.80" width="24.57" height="6.25" fill="#ffffff"/>
<rect x="343.70" y="284.80" width="24.57" height="6.25" fill="#9693e4"/>
<rect x="368.22" y="284.80" width="24.57" height="6.25" fill="#0e08ff"/>
<rect x="392.75" y="284.80" width="24.57" height="6.25" fill="#827fe3"/>
<rect x="417.27" y="284.80" width="24.57" height="6.25" fill="#433eed"/>
<rect x="294.65" y="290.99" width="24.57" height="6.25" fill="#e6e5f6"/>
<rect x="319.17" y="290.99" width="24.57" height="6.25" fill="#fffefd"/>
<rect x="343.70" y="290.99" width="24.57" height="6.25" fill="#ffffff"/>
<rect x="368.22" y="290.99" width="24.57" height="6.25" fill="#ffffff"/>
<rect x="392.75" y="290.99" width="24.57" height="6.25" fill="#a7a5e6"/>
<rect x="417.27" y="290.99" width="24.57" height="6.25" fill="#ffffff"/>
<rect x="294.65" y="297.19" width="24.57" height="6.25" fill="#fef9f5"/>
<rect x="319.17" y="297.19" width="24.57" height="6.25" fill="#ffffff"/>
<rect x="343.70" y="297.19" width="24.57" height="6.25" fill="#504bea"/>
<rect x="368.22" y="297.19" width="24.57" height="6.25" fill="#ffffff"/>
<rect x="392.75" y="297.19" width="24.57" height="6.25" fill="#a7a5e6"/>
<rect x="417.27" y="297.19" width="24.57" height="6.25" fill="#cdccee"/>
<rect x="294.65" y="303.38" width="24.57" height="6.25" fill="#f2f2fa"/>
<rect x="319.17" y="303.38" width="24.57" height="6.25" fill="#fde9db"/>
<rect x="343.70" y="303.38" width="24.57" height="6.25" fill="#6965e5"/>
<rect x="368.22" y="303.38" width="24.57" height="6.25" fill="#5c58e7"/>
<rect x="392.75" y="303.38" width="24.57" height="6.25" fill="#5c58e7"/>
<rect x="417.27" y="303.38" width="24.57" height="6.25" fill="#e6e5f6"/>
<rect x="294.65" y="309.58" width="24.57" height="6.25" fill="#b4b4b3"/>
<rect x="319.17" y="309.58" width="24.57" height="6.25" fill="#d9d8f2"/>
<rect x="343.70" y="309.58" width="24.57" height="6.25" fill="#b4b4b3"/>
<rect x="368.22" y="309.58" width="24.57" height="6.25" fill="#433eed"/>
<rect x="392.75" y="309.58" width="24.57" height="6.25" fill="#b4b4b3"/>
<rect x="417.27" y="309.58" width="24.57" height="6.25" fill="#827fe3"/>
<rect x="294.65" y="315.78" width="24.57" height="6.25" fill="#fef8f3"/>
<rect x="319.17" y="315.78" width="24.57" height="6.25" fill="#fef0e7"/>
<rect x="343.70" y="315.78" width="24.57" height="6.25" fill="#b4b2e8"/>
<rect x="368.22" y="315.78" width="24.57" height="6.25" fill="#2a25f5"/>
<rect x="392.75" y="315.78" width="24.57" height="6.25" fill="#e6e5f6"/>
<rect x="417.27" y="315.78" width="24.57" height="6.25" fill="#b4b2e8"/>
<rect x="294.65" y="321.97" width="24.57" height="6.25" fill="#f2f2fa"/>
<rect x="319.17" y="321.97" width="24.57" height="6.25" fill="#fce2ce"/>
<rect x="343.70" y="321.97" width="24.57" height="6.25" fill="#9b98e4"/>
<rect x="368.22" y="321.97" width="24.57" height="6.25" fill="#2a25f5"/>
<rect x="392.75" y="321.97" width="24.57" height="6.25" fill="#e6e5f6"/>
<rect x="417.27" y="321.97" width="24.57" height="6.25" fill="#d9d8f2"/>
<rect x="294.65" y="328.17" width="24.57" height="6.25" fill="#fafafd"/>
<rect x="319.17" y="328.17" width="24.57" height="6.25" fill="#fef8f3"/>
<rect x="343.70" y="328.17" width="24.57" height="6.25" fill="#3631f1"/>
<rect x="368.22" y="328.17" width="24.57" height="6.25" fill="#504bea"/>
<rect x="392.75" y="328.17" width="24.57" height="6.25" fill="#827fe3"/>
<rect x="417.27" y="328.17" width="24.57" height="6.25" fill="#c0bfeb"/>
<rect x="294.65" y="334.36" width="24.57" height="6.25" fill="#d9d8f2"/>
<rect x="319.17" y="334.36" width="24.57" height="6.25" fill="#d9d8f2"/>
<rect x="343.70" y="334.36" width="24.57" height="6.25" fill="#c0bfeb"/>
<rect x="368.22" y="334.36" width="24.57" height="6.25" fill="#e6e5f6"/>
<rect x="392.75" y="334.36" width="24.57" height="6.25" fill="#a7a5e6"/>
<rect x="417.27" y="334.36" width="24.57" height="6.25" fill="#a7a5e6"/>
<rect x="294.65" y="340.56" width="24.57" height="6.25" fill="#c0bfeb"/>
<rect x="319.17" y="340.56" width="24.57" height="6.25" fill="#d9d8f2"/>
<rect x="343.70" y="340.56" width="24.57" height="6.25" fill="#504bea"/>
<rect x="368.22" y="340.56" width="24.57" height="6.25" fill="#827fe3"/>
<rect x="392.75" y="340.56" width="24.57" height="6.25" fill="#a7a5e6"/>
<rect x="417.27" y="340.56" width="24.57" height="6.25" fill="#9b98e4"/>
<rect x="294.65" y="346.76" width="24.57" height="6.25" fill="#fce2ce"/>
<rect x="319.17" y="346.76" width="24.57" height="6.25" fill="#ededf9"/>
<rect x="343.70" y="346.76" width="24.57" height="6.25" fill="#6965e5"/>
<rect x="368.22" y="346.76" width="24.57" height="6.25" fill="#1d18f9"/>
<rect x="392.75" y="346.76" width="24.57" height="6.25" fill="#fffefd"/>
<rect x="417.27" y="346.76" width="24.57" height="6.25" fill="#c0bfeb"/>
<rect x="294.65" y="352.95" width="24.57" height="6.25" fill="#fef8f3"/>
<rect x="319.17" y="352.95" width="24.57" height="6.25" fill="#ffffff"/>
<rect x="343.70" y="352.95" width="24.57" height="6.25" fill="#b4b2e8"/>
<rect x="368.22" y="352.95" width="24.57" height="6.25" fill="#110bfe"/>
<rect x="392.75" y="352.95" width="24.57" height="6.25" fill="#fffbf8"/>
<rect x="417.27" y="352.95" width="24.57" height="6.25" fill="#c0bfeb"/>
<rect x="294.65" y="359.15" width="24.57" height="6.25" fill="#fcdbc3"/>
<rect x="319.17" y="359.15" width="24.57" height="6.25" fill="#fffbf8"/>
<rect x="343.70" y="359.15" width="24.57" height="6.25" fill="#ffffff"/>
<rect x="368.22" y="359.15" width="24.57" height="6.25" fill="#1d18f9"/>
<rect x="392.75" y="359.15" width="24.57" height="6.25" fill="#504bea"/>
<rect x="417.27" y="359.15" width="24.57" height="6.25" fill="#827fe3"/>
<rect x="294.65" y="365.34" width="24.57" height="6.25" fill="#fef8f3"/>
<rect x="319.17" y="365.34" width="24.57" height="6.25" fill="#fef5ee"/>
<rect x="343.70" y="365.34" width="24.57" height="6.25" fill="#8e8be3"/>
<rect x="368.22" y="365.34" width="24.57" height="6.25" fill="#ffffff"/>
<rect x="392.75" y="365.34" width="24.57" height="6.25" fill="#b4b2e8"/>
<rect x="417.27" y="365.34" width="24.57" height="6.25" fill="#827fe3"/>
<rect x="294.65" y="371.54" width="24.57" height="6.25" fill="#ededf9"/>
<rect x="319.17" y="371.54" width="24.57" height="6.25" fill="#d9d8f2"/>
<rect x="343.70" y="371.54" width="24.57" height="6.25" fill="#8e8be3"/>
<rect x="368.22" y="371.54" width="24.57" height="6.25" fill="#5c58e7"/>
<rect x="392.75" y="371.54" width="24.57" height="6.25" fill="#c0bfeb"/>
<rect x="417.27" y="371.54" width="24.57" height="6.25" fill="#8e8be3"/>
<rect x="294.65" y="377.74" width="24.57" height="6.25" fill="#fcdbc3"/>
<rect x="319.17" y="377.74" width="24.57" height="6.25" fill="#fef5ee"/>
<rect x="343.70" y="377.74" width="24.57" height="6.25" fill="#a7a5e6"/>
<rect x="368.22" y="377.74" width="24.57" height="6.25" fill="#0e08ff"/>
<rect x="392.75" y="377.74" width="24.57" height="6.25" fill="#ebeaf8"/>
<rect x="417.27" y="377.74" width="24.57" height="6.25" fill="#8e8be3"/>
<rect x="294.65" y="383.93" width="24.57" height="6.25" fill="#e1e0f4"/>
<rect x="319.17" y="383.93" width="24.57" height="6.25" fill="#fffbf8"/>
<rect x="343.70" y="383.93" width="24.57" height="6.25" fill="#ffffff"/>
<rect x="368.22" y="383.93" width="24.57" height="6.25" fill="#5c58e7"/>
<rect x="392.75" y="383.93" width="24.57" height="6.25" fill="#f0f0fa"/>
<rect x="417.27" y="383.93" width="24.57" height="6.25" fill="#f2f2fa"/>
<rect x="294.65" y="390.13" width="24.57" height="6.25" fill="#fef9f5"/>
<rect x="319.17" y="390.13" width="24.57" height="6.25" fill="#f37c37"/>
<rect x="343.70" y="390.13" width="24.57" height="6.25" fill="#fde9db"/>
<rect x="368.22" y="390.13" width="24.57" height="6.25" fill="#f58b4b"/>
<rect x="392.75" y="390.13" width="24.57" height="6.25" fill="#fce2ce"/>
<rect x="417.27" y="390.13" width="24.57" height="6.25" fill="#ffffff"/>
<rect x="294.65" y="396.32" width="24.57" height="6.25" fill="#b4b4b3"/>
<rect x="319.17" y="396.32" width="24.57" height="6.25" fill="#fffefd"/>
<rect x="343.70" y="396.32" width="24.57" height="6.25" fill="#b4b4b3"/>
<rect x="368.22" y="396.32" width="24.57" height="6.25" fill="#f26e24"/>
<rect x="392.75" y="396.32" width="24.57" height="6.25" fill="#b4b4b3"/>
<rect x="417.27" y="396.32" width="24.57" height="6.25" fill="#fce2ce"/>
<rect x="294.65" y="402.52" width="24.57" height="6.25" fill="#e6e5f6"/>
<rect x="319.17" y="402.52" width="24.57" height="6.25" fill="#fafafd"/>
<rect x="343.70" y="402.52" width="24.57" height="6.25" fill="#f2f2fa"/>
<rect x="368.22" y="402.52" width="24.57" height="6.25" fill="#8e8be3"/>
<rect x="392.75" y="402.52" width="24.57" height="6.25" fill="#f2f2fa"/>
<rect x="417.27" y="402.52" width="24.57" height="6.25" fill="#d9d8f2"/>
<rect x="294.65" y="408.72" width="24.57" height="6.25" fill="#fef9f5"/>
<rect x="319.17" y="408.72" width="24.57" height="6.25" fill="#ffffff"/>
<rect x="343.70" y="408.72" width="24.57" height="6.25" fill="#b4b2e8"/>
<rect x="368.22" y="408.72" width="24.57" height="6.25" fill="#433eed"/>
<rect x="392.75" y="408.72" width="24.57" height="6.25" fill="#c0bfeb"/>
<rect x="417.27" y="408.72" width="24.57" height="6.25" fill="#9b98e4"/>
<rect x="294.65" y="414.91" width="24.57" height="6.25" fill="#f0f0fa"/>
<rect x="319.17" y="414.91" width="24.57" height="6.25" fill="#e6e5f6"/>
<rect x="343.70" y="414.91" width="24.57" height="6.25" fill="#9b98e4"/>
<rect x="368.22" y="414.91" width="24.57" height="6.25" fill="#433eed"/>
<rect x="392.75" y="414.91" width="24.57" height="6.25" fill="#fef3eb"/>
<rect x="417.27" y="414.91" width="24.57" height="6.25" fill="#d9d8f2"/>
<rect x="294.65" y="421.11" width="24.57" height="6.25" fill="#fffbf8"/>
<rect x="319.17" y="421.11" width="24.57" height="6.25" fill="#d9d8f2"/>
<rect x="343.70" y="421.11" width="24.57" height="6.25" fill="#d9d8f2"/>
<rect x="368.22" y="421.11" width="24.57" height="6.25" fill="#a7a5e6"/>
<rect x="392.75" y="421.11" width="24.57" height="6.25" fill="#fef9f5"/>
<rect x="417.27" y="421.11" width="24.57" height="6.25" fill="#e1e0f4"/>
<rect x="294.65" y="427.30" width="24.57" height="6.25" fill="#b4b4b3"/>
<rect x="319.17" y="427.30" width="24.57" height="6.25" fill="#fef0e7"/>
<rect x="343.70" y="427.30" width="24.57" height="6.25" fill="#b4b4b3"/>
<rect x="368.22" y="427.30" width="24.57" height="6.25" fill="#6965e5"/>
<rect x="392.75" y="427.30" width="24.57" height="6.25" fill="#b4b4b3"/>
<rect x="417.27" y="427.30" width="24.57" height="6.25" fill="#d9d8f2"/>
<rect x="294.65" y="433.50" width="24.57" height="6.25" fill="#b4b4b3"/>
<rect x="319.17" y="433.50" width="24.57" height="6.25" fill="#cdccee"/>
<rect x="343.70" y="433.50" width="24.57" height="6.25" fill="#b4b4b3"/>
<rect x="368.22" y="433.50" width="24.57" height="6.25" fill="#504bea"/>
<rect x="392.75" y="433.50" width="24.57" height="6.25" fill="#b4b4b3"/>
<rect x="417.27" y="433.50" width="24.57" height="6.25" fill="#827fe3"/>
<rect x="294.65" y="439.70" width="24.57" height="6.25" fill="#faccab"/>
<rect x="319.17" y="439.70" width="24.57" height="6.25" fill="#ebeaf8"/>
<rect x="343.70" y="439.70" width="24.57" height="6.25" fill="#8e8be3"/>
<rect x="368.22" y="439.70" width="24.57" height="6.25" fill="#504bea"/>
<rect x="392.75" y="439.70" width="24.57" height="6.25" fill="#827fe3"/>
<rect x="417.27" y="439.70" width="24.57" height="6.25" fill="#8e8be3"/>
<rect x="294.65" y="445.89" width="24.57" height="6.25" fill="#fffefd"/>
<rect x="319.17" y="445.89" width="24.57" height="6.25" fill="#fcfcfe"/>
<rect x="343.70" y="445.89" width="24.57" height="6.25" fill="#3631f1"/>
<rect x="368.22" y="445.89" width="24.57" height="6.25" fill="#504bea"/>
<rect x="392.75" y="445.89" width="24.57" height="6.25" fill="#6965e5"/>
<rect x="417.27" y="445.89" width="24.57" height="6.25" fill="#7572e4"/>
<rect x="294.65" y="452.09" width="24.57" height="6.25" fill="#e6e5f6"/>
<rect x="319.17" y="452.09" width="24.57" height="6.25" fill="#f7f7fc"/>
<rect x="343.70" y="452.09" width="24.57" height="6.25" fill="#fdecdf"/>
<rect x="368.22" y="452.09" width="24.57" height="6.25" fill="#f26e24"/>
<rect x="392.75" y="452.09" width="24.57" height="6.25" fill="#fac5a0"/>
<rect x="417.27" y="452.09" width="24.57" height="6.25" fill="#f3752e"/>
<rect x="294.65" y="458.28" width="24.57" height="6.25" fill="#fef5ee"/>
<rect x="319.17" y="458.28" width="24.57" height="6.25" fill="#fde9db"/>
<rect x="343.70" y="458.28" width="24.57" height="6.25" fill="#f3752e"/>
<rect x="368.22" y="458.28" width="24.57" height="6.25" fill="#f58b4b"/>
<rect x="392.75" y="458.28" width="24.57" height="6.25" fill="#fafafd"/>
<rect x="417.27" y="458.28" width="24.57" height="6.25" fill="#ededf9"/>
<rect x="294.65" y="464.48" width="24.57" height="6.25" fill="#b4b4b3"/>
<rect x="319.17" y="464.48" width="24.57" height="6.25" fill="#f2f2fa"/>
<rect x="343.70" y="464.48" width="24.57" height="6.25" fill="#b4b4b3"/>
<rect x="368.22" y="464.48" width="24.57" height="6.25" fill="#ffffff"/>
<rect x="392.75" y="464.48" width="24.57" height="6.25" fill="#b4b4b3"/>
<rect x="417.27" y="464.48" width="24.57" height="6.25" fill="#ffffff"/>
<rect x="294.65" y="470.68" width="24.57" height="6.25" fill="#ffffff"/>
<rect x="319.17" y="470.68" width="24.57" height="6.25" fill="#fef0e7"/>
<rect x="343.70" y="470.68" width="24.57" height="6.25" fill="#f7a570"/>
<rect x="368.22" y="470.68" width="24.57" height="6.25" fill="#f7a16a"/>
<rect x="392.75" y="470.68" width="24.57" height="6.25" fill="#f0f0fa"/>
<rect x="417.27" y="470.68" width="24.57" height="6.25" fill="#fdeee2"/>
<rect x="294.65" y="476.87" width="24.57" height="6.25" fill="#fde9db"/>
<rect x="319.17" y="476.87" width="24.57" height="6.25" fill="#fef0e7"/>
<rect x="343.70" y="476.87" width="24.57" height="6.25" fill="#fac8a4"/>
<rect x="368.22" y="476.87" width="24.57" height="6.25" fill="#fffefd"/>
<rect x="392.75" y="476.87" width="24.57" height="6.25" fill="#fbd4b7"/>
<rect x="417.27" y="476.87" width="24.57" height="6.25" fill="#fce2ce"/>
<rect x="294.65" y="483.07" width="24.57" height="6.25" fill="#f5f5fb"/>
<rect x="319.17" y="483.07" width="24.57" height="6.25" fill="#fef6f0"/>
<rect x="343.70" y="483.07" width="24.57" height="6.25" fill="#f8af7f"/>
<rect x="368.22" y="483.07" width="24.57" height="6.25" fill="#f2f2fa"/>
<rect x="392.75" y="483.07" width="24.57" height="6.25" fill="#d2d1ef"/>
<rect x="417.27" y="483.07" width="24.57" height="6.25" fill="#fef0e7"/>
<rect x="294.65" y="489.26" width="24.57" height="6.25" fill="#fffcfa"/>
<rect x="319.17" y="489.26" width="24.57" height="6.25" fill="#fde9db"/>
<rect x="343.70" y="489.26" width="24.57" height="6.25" fill="#a7a5e6"/>
<rect x="368.22" y="489.26" width="24.57" height="6.25" fill="#2a25f5"/>
<rect x="392.75" y="489.26" width="24.57" height="6.25" fill="#b4b2e8"/>
<rect x="417.27" y="489.26" width="24.57" height="6.25" fill="#ededf9"/>
<rect x="294.65" y="495.46" width="24.57" height="6.25" fill="#fffbf8"/>
<rect x="319.17" y="495.46" width="24.57" height="6.25" fill="#fef8f3"/>
<rect x="343.70" y="495.46" width="24.57" height="6.25" fill="#a7a5e6"/>
<rect x="368.22" y="495.46" width="24.57" height="6.25" fill="#110bfe"/>
<rect x="392.75" y="495.46" width="24.57" height="6.25" fill="#e6e5f6"/>
<rect x="417.27" y="495.46" width="24.57" height="6.25" fill="#9b98e4"/>
<rect x="294.65" y="501.66" width="24.57" height="6.25" fill="#fffcfa"/>
<rect x="319.17" y="501.66" width="24.57" height="6.25" fill="#fce2ce"/>
<rect x="343.70" y="501.66" width="24.57" height="6.25" fill="#f8af7f"/>
<rect x="368.22" y="501.66" width="24.57" height="6.25" fill="#fef0e7"/>
<rect x="392.75" y="501.66" width="24.57" height="6.25" fill="#fffcfa"/>
<rect x="417.27" y="501.66" width="24.57" height="6.25" fill="#fbd4b7"/>
<rect x="294.65" y="507.85" width="24.57" height="6.25" fill="#fde5d3"/>
<rect x="319.17" y="507.85" width="24.57" height="6.25" fill="#e6e5f6"/>
<rect x="343.70" y="507.85" width="24.57" height="6.25" fill="#f69559"/>
<rect x="368.22" y="507.85" width="24.57" height="6.25" fill="#8e8be3"/>
<rect x="392.75" y="507.85" width="24.57" height="6.25" fill="#fbd4b7"/>
<rect x="417.27" y="507.85" width="24.57" height="6.25" fill="#c0bfeb"/>
<rect x="294.65" y="514.05" width="24.57" height="6.25" fill="#b4b4b3"/>
<rect x="319.17" y="514.05" width="24.57" height="6.25" fill="#fdeee2"/>
<rect x="343.70" y="514.05" width="24.57" height="6.25" fill="#b4b4b3"/>
<rect x="368.22" y="514.05" width="24.57" height="6.25" fill="#f7a874"/>
<rect x="392.75" y="514.05" width="24.57" height="6.25" fill="#b4b4b3"/>
<rect x="417.27" y="514.05" width="24.57" height="6.25" fill="#f59255"/>
<rect x="294.65" y="520.24" width="24.57" height="6.25" fill="#b4b4b3"/>
<rect x="319.17" y="520.24" width="24.57" height="6.25" fill="#ffffff"/>
<rect x="343.70" y="520.24" width="24.57" height="6.25" fill="#b4b4b3"/>
<rect x="368.22" y="520.24" width="24.57" height="6.25" fill="#fcdbc3"/>
<rect x="392.75" y="520.24" width="24.57" height="6.25" fill="#b4b4b3"/>
<rect x="417.27" y="520.24" width="24.57" height="6.25" fill="#5c58e7"/>
<rect x="294.65" y="526.44" width="24.57" height="6.25" fill="#b4b4b3"/>
<rect x="319.17" y="526.44" width="24.57" height="6.25" fill="#fdeee2"/>
<rect x="343.70" y="526.44" width="24.57" height="6.25" fill="#b4b4b3"/>
<rect x="368.22" y="526.44" width="24.57" height="6.25" fill="#ffffff"/>
<rect x="392.75" y="526.44" width="24.57" height="6.25" fill="#b4b4b3"/>
<rect x="417.27" y="526.44" width="24.57" height="6.25" fill="#f8af7f"/>
<rect x="294.65" y="532.64" width="24.57" height="6.25" fill="#fef0e7"/>
<rect x="319.17" y="532.64" width="24.57" height="6.25" fill="#cdccee"/>
<rect x="343.70" y="532.64" width="24.57" height="6.25" fill="#1813fb"/>
<rect x="368.22" y="532.64" width="24.57" height="6.25" fill="#6965e5"/>
<rect x="392.75" y="532.64" width="24.57" height="6.25" fill="#827fe3"/>
<rect x="417.27" y="532.64" width="24.57" height="6.25" fill="#827fe3"/>
<rect x="294.65" y="538.83" width="24.57" height="6.25" fill="#b4b4b3"/>
<rect x="319.17" y="538.83" width="24.57" height="6.25" fill="#e1e0f4"/>
<rect x="343.70" y="538.83" width="24.57" height="6.25" fill="#b4b4b3"/>
<rect x="368.22" y="538.83" width="24.57" height="6.25" fill="#ffffff"/>
<rect x="392.75" y="538.83" width="24.57" height="6.25" fill="#b4b4b3"/>
<rect x="417.27" y="538.83" width="24.57" height="6.25" fill="#0e08ff"/>
<rect x="294.65" y="545.03" width="24.57" height="6.25" fill="#e6e5f6"/>
<rect x="319.17" y="545.03" width="24.57" height="6.25" fill="#fde9db"/>
<rect x="343.70" y="545.03" width="24.57" height="6.25" fill="#f8af7f"/>
<rect x="368.22" y="545.03" width="24.57" height="6.25" fill="#fcdbc3"/>
<rect x="392.75" y="545.03" width="24.57" height="6.25" fill="#d9d8f2"/>
<rect x="417.27" y="545.03" width="24.57" height="6.25" fill="#fce2ce"/>
<rect x="294.65" y="551.22" width="24.57" height="6.25" fill="#fef9f5"/>
<rect x="319.17" y="551.22" width="24.57" height="6.25" fill="#fde9db"/>
<rect x="343.70" y="551.22" width="24.57" height="6.25" fill="#f58e4f"/>
<rect x="368.22" y="551.22" width="24.57" height="6.25" fill="#faccab"/>
<rect x="392.75" y="551.22" width="24.57" height="6.25" fill="#d9d8f2"/>
<rect x="417.27" y="551.22" width="24.57" height="6.25" fill="#fef0e7"/>
<rect x="294.65" y="557.42" width="24.57" height="6.25" fill="#e6e5f6"/>
<rect x="319.17" y="557.42" width="24.57" height="6.25" fill="#f0f0fa"/>
<rect x="343.70" y="557.42" width="24.57" height="6.25" fill="#ffffff"/>
<rect x="368.22" y="557.42" width="24.57" height="6.25" fill="#f8b485"/>
<rect x="392.75" y="557.42" width="24.57" height="6.25" fill="#faccab"/>
<rect x="417.27" y="557.42" width="24.57" height="6.25" fill="#ffffff"/>
<rect x="294.65" y="563.62" width="24.57" height="6.25" fill="#fce2ce"/>
<rect x="319.17" y="563.62" width="24.57" height="6.25" fill="#fde9db"/>
<rect x="343.70" y="563.62" width="24.57" height="6.25" fill="#fac5a0"/>
<rect x="368.22" y="563.62" width="24.57" height="6.25" fill="#fbd4b7"/>
<rect x="392.75" y="563.62" width="24.57" height="6.25" fill="#b4b2e8"/>
<rect x="417.27" y="563.62" width="24.57" height="6.25" fill="#fcdbc3"/>
<rect x="294.65" y="569.81" width="24.57" height="6.25" fill="#b4b4b3"/>
<rect x="319.17" y="569.81" width="24.57" height="6.25" fill="#fde9db"/>
<rect x="343.70" y="569.81" width="24.57" height="6.25" fill="#b4b4b3"/>
<rect x="368.22" y="569.81" width="24.57" height="6.25" fill="#f9be95"/>
<rect x="392.75" y="569.81" width="24.57" height="6.25" fill="#b4b4b3"/>
<rect x="417.27" y="569.81" width="24.57" height="6.25" fill="#fbd4b7"/>
<rect x="294.65" y="576.01" width="24.57" height="6.25" fill="#b4b4b3"/>
<rect x="319.17" y="576.01" width="24.57" height="6.25" fill="#fcdbc3"/>
<rect x="343.70" y="576.01" width="24.57" height="6.25" fill="#b4b4b3"/>
<rect x="368.22" y="576.01" width="24.57" height="6.25" fill="#ffffff"/>
<rect x="392.75" y="576.01" width="24.57" height="6.25" fill="#b4b4b3"/>
<rect x="417.27" y="576.01" width="24.57" height="6.25" fill="#f48441"/>
<rect x="294.65" y="582.20" width="24.57" height="6.25" fill="#fef0e7"/>
<rect x="319.17" y="582.20" width="24.57" height="6.25" fill="#fde9db"/>
<rect x="343.70" y="582.20" width="24.57" height="6.25" fill="#fbd4b7"/>
<rect x="368.22" y="582.20" width="24.57" height="6.25" fill="#fffbf8"/>
<rect x="392.75" y="582.20" width="24.57" height="6.25" fill="#f9be95"/>
<rect x="417.27" y="582.20" width="24.57" height="6.25" fill="#f7a16a"/>
<rect x="294.65" y="588.40" width="24.57" height="6.25" fill="#b4b4b3"/>
<rect x="319.17" y="588.40" width="24.57" height="6.25" fill="#fef8f3"/>
<rect x="343.70" y="588.40" width="24.57" height="6.25" fill="#b4b4b3"/>
<rect x="368.22" y="588.40" width="24.57" height="6.25" fill="#f59255"/>
<rect x="392.75" y="588.40" width="24.57" height="6.25" fill="#b4b4b3"/>
<rect x="417.27" y="588.40" width="24.57" height="6.25" fill="#f58b4b"/>
<rect x="294.65" y="594.60" width="24.57" height="6.25" fill="#fef0e7"/>
<rect x="319.17" y="594.60" width="24.57" height="6.25" fill="#f2f2fa"/>
<rect x="343.70" y="594.60" width="24.57" height="6.25" fill="#cdccee"/>
<rect x="368.22" y="594.60" width="24.57" height="6.25" fill="#3631f1"/>
<rect x="392.75" y="594.60" width="24.57" height="6.25" fill="#d9d8f2"/>
<rect x="417.27" y="594.60" width="24.57" height="6.25" fill="#6965e5"/>
<rect x="294.65" y="600.79" width="24.57" height="6.25" fill="#f2f2fa"/>
<rect x="319.17" y="600.79" width="24.57" height="6.25" fill="#f5f5fb"/>
<rect x="343.70" y="600.79" width="24.57" height="6.25" fill="#7572e4"/>
<rect x="368.22" y="600.79" width="24.57" height="6.25" fill="#504bea"/>
<rect x="392.75" y="600.79" width="24.57" height="6.25" fill="#ffffff"/>
<rect x="417.27" y="600.79" width="24.57" height="6.25" fill="#7572e4"/>
<rect x="294.65" y="606.99" width="24.57" height="6.25" fill="#b4b4b3"/>
<rect x="319.17" y="606.99" width="24.57" height="6.25" fill="#ebeaf8"/>
<rect x="343.70" y="606.99" width="24.57" height="6.25" fill="#b4b4b3"/>
<rect x="368.22" y="606.99" width="24.57" height="6.25" fill="#2a25f5"/>
<rect x="392.75" y="606.99" width="24.57" height="6.25" fill="#b4b4b3"/>
<rect x="417.27" y="606.99" width="24.57" height="6.25" fill="#3631f1"/>
<rect x="294.65" y="613.18" width="24.57" height="6.25" fill="#ededf9"/>
<rect x="319.17" y="613.18" width="24.57" height="6.25" fill="#fffbf8"/>
<rect x="343.70" y="613.18" width="24.57" height="6.25" fill="#9b98e4"/>
<rect x="368.22" y="613.18" width="24.57" height="6.25" fill="#0e08ff"/>
<rect x="392.75" y="613.18" width="24.57" height="6.25" fill="#cdccee"/>
<rect x="417.27" y="613.18" width="24.57" height="6.25" fill="#ebeaf8"/>
<rect x="294.65" y="619.38" width="24.57" height="6.25" fill="#fffcfa"/>
<rect x="319.17" y="619.38" width="24.57" height="6.25" fill="#fef3eb"/>
<rect x="343.70" y="619.38" width="24.57" height="6.25" fill="#d9d8f2"/>
<rect x="368.22" y="619.38" width="24.57" height="6.25" fill="#3631f1"/>
<rect x="392.75" y="619.38" width="24.57" height="6.25" fill="#fffefd"/>
<rect x="417.27" y="619.38" width="24.57" height="6.25" fill="#fbd4b7"/>
<rect x="294.65" y="278.6" width="147.14999999999998" height="346.98" fill="none" stroke="#000" stroke-width="1.4"/>
<line x1="343.70" y1="278.60" x2="343.70" y2="625.58" stroke="#000" stroke-width="0.6" />
<line x1="392.75" y1="278.60" x2="392.75" y2="625.58" stroke="#000" stroke-width="0.6" />
<text x="291.60" y="283.71" transform="rotate(0.05 291.60 283.71)" font-size="5.6" font-weight="bold" fill="#000" text-anchor="end"  stroke="#000" stroke-width="0.123">MCM4</text>
<line x1="291.90" y1="281.70" x2="294.65" y2="281.70" stroke="#000" stroke-width="0.8" />
<text x="291.60" y="289.91" transform="rotate(0.05 291.60 289.91)" font-size="5.6" font-weight="bold" fill="#000" text-anchor="end"  stroke="#000" stroke-width="0.123">MCM6</text>
<line x1="291.90" y1="287.89" x2="294.65" y2="287.89" stroke="#000" stroke-width="0.8" />
<text x="291.60" y="296.11" transform="rotate(0.05 291.60 296.11)" font-size="5.6" font-weight="bold" fill="#000" text-anchor="end"  stroke="#000" stroke-width="0.123">CDC45</text>
<line x1="291.90" y1="294.09" x2="294.65" y2="294.09" stroke="#000" stroke-width="0.8" />
<text x="291.60" y="302.30" transform="rotate(0.05 291.60 302.30)" font-size="5.6" font-weight="bold" fill="#000" text-anchor="end"  stroke="#000" stroke-width="0.123">DDX21</text>
<line x1="291.90" y1="300.29" x2="294.65" y2="300.29" stroke="#000" stroke-width="0.8" />
<text x="291.60" y="308.50" transform="rotate(0.05 291.60 308.50)" font-size="5.6" font-weight="bold" fill="#000" text-anchor="end"  stroke="#000" stroke-width="0.123">DDX56</text>
<line x1="291.90" y1="306.48" x2="294.65" y2="306.48" stroke="#000" stroke-width="0.8" />
<text x="291.60" y="314.69" transform="rotate(0.05 291.60 314.69)" font-size="5.6" font-weight="bold" fill="#000" text-anchor="end"  stroke="#000" stroke-width="0.123">RAD54B</text>
<line x1="291.90" y1="312.68" x2="294.65" y2="312.68" stroke="#000" stroke-width="0.8" />
<text x="291.60" y="320.89" transform="rotate(0.05 291.60 320.89)" font-size="5.6" font-weight="bold" fill="#000" text-anchor="end"  stroke="#000" stroke-width="0.123">RUVBL1</text>
<line x1="291.90" y1="318.87" x2="294.65" y2="318.87" stroke="#000" stroke-width="0.8" />
<text x="291.60" y="327.09" transform="rotate(0.05 291.60 327.09)" font-size="5.6" font-weight="bold" fill="#000" text-anchor="end"  stroke="#000" stroke-width="0.123">RUVBL2</text>
<line x1="291.90" y1="325.07" x2="294.65" y2="325.07" stroke="#000" stroke-width="0.8" />
<text x="291.60" y="333.28" transform="rotate(0.05 291.60 333.28)" font-size="5.6" font-weight="bold" fill="#000" text-anchor="end"  stroke="#000" stroke-width="0.123">SLC1A5</text>
<line x1="291.90" y1="331.27" x2="294.65" y2="331.27" stroke="#000" stroke-width="0.8" />
<text x="291.60" y="339.48" transform="rotate(0.05 291.60 339.48)" font-size="5.6" font-weight="bold" fill="#000" text-anchor="end"  stroke="#000" stroke-width="0.123">SLC38A2</text>
<line x1="291.90" y1="337.46" x2="294.65" y2="337.46" stroke="#000" stroke-width="0.8" />
<text x="291.60" y="345.67" transform="rotate(0.05 291.60 345.67)" font-size="5.6" font-weight="bold" fill="#000" text-anchor="end"  stroke="#000" stroke-width="0.123">SLC38A1</text>
<line x1="291.90" y1="343.66" x2="294.65" y2="343.66" stroke="#000" stroke-width="0.8" />
<text x="291.60" y="351.87" transform="rotate(0.05 291.60 351.87)" font-size="5.6" font-weight="bold" fill="#000" text-anchor="end"  stroke="#000" stroke-width="0.123">PPAT</text>
<line x1="291.90" y1="349.85" x2="294.65" y2="349.85" stroke="#000" stroke-width="0.8" />
<text x="291.60" y="358.07" transform="rotate(0.05 291.60 358.07)" font-size="5.6" font-weight="bold" fill="#000" text-anchor="end"  stroke="#000" stroke-width="0.123">PAICS</text>
<line x1="291.90" y1="356.05" x2="294.65" y2="356.05" stroke="#000" stroke-width="0.8" />
<text x="291.60" y="364.26" transform="rotate(0.05 291.60 364.26)" font-size="5.6" font-weight="bold" fill="#000" text-anchor="end"  stroke="#000" stroke-width="0.123">TYMS</text>
<line x1="291.90" y1="362.25" x2="294.65" y2="362.25" stroke="#000" stroke-width="0.8" />
<text x="291.60" y="370.46" transform="rotate(0.05 291.60 370.46)" font-size="5.6" font-weight="bold" fill="#000" text-anchor="end"  stroke="#000" stroke-width="0.123">EXOSC2</text>
<line x1="291.90" y1="368.44" x2="294.65" y2="368.44" stroke="#000" stroke-width="0.8" />
<text x="291.60" y="376.65" transform="rotate(0.05 291.60 376.65)" font-size="5.6" font-weight="bold" fill="#000" text-anchor="end"  stroke="#000" stroke-width="0.123">RPP40</text>
<line x1="291.90" y1="374.64" x2="294.65" y2="374.64" stroke="#000" stroke-width="0.8" />
<text x="291.60" y="382.85" transform="rotate(0.05 291.60 382.85)" font-size="5.6" font-weight="bold" fill="#000" text-anchor="end"  stroke="#000" stroke-width="0.123">GEMIN4</text>
<line x1="291.90" y1="380.83" x2="294.65" y2="380.83" stroke="#000" stroke-width="0.8" />
<text x="291.60" y="389.05" transform="rotate(0.05 291.60 389.05)" font-size="5.6" font-weight="bold" fill="#000" text-anchor="end"  stroke="#000" stroke-width="0.123">HSPA9</text>
<line x1="291.90" y1="387.03" x2="294.65" y2="387.03" stroke="#000" stroke-width="0.8" />
<text x="291.60" y="395.24" transform="rotate(0.05 291.60 395.24)" font-size="5.6" font-weight="bold" fill="#000" text-anchor="end"  stroke="#000" stroke-width="0.123">HSPA1B</text>
<line x1="291.90" y1="393.23" x2="294.65" y2="393.23" stroke="#000" stroke-width="0.8" />
<text x="291.60" y="401.44" transform="rotate(0.05 291.60 401.44)" font-size="5.6" font-weight="bold" fill="#000" text-anchor="end"  stroke="#000" stroke-width="0.123">HSPA2</text>
<line x1="291.90" y1="399.42" x2="294.65" y2="399.42" stroke="#000" stroke-width="0.8" />
<text x="291.60" y="407.63" transform="rotate(0.05 291.60 407.63)" font-size="5.6" font-weight="bold" fill="#000" text-anchor="end"  stroke="#000" stroke-width="0.123">TPR</text>
<line x1="291.90" y1="405.62" x2="294.65" y2="405.62" stroke="#000" stroke-width="0.8" />
<text x="291.60" y="413.83" transform="rotate(0.05 291.60 413.83)" font-size="5.6" font-weight="bold" fill="#000" text-anchor="end"  stroke="#000" stroke-width="0.123">NUP155</text>
<line x1="291.90" y1="411.81" x2="294.65" y2="411.81" stroke="#000" stroke-width="0.8" />
<text x="291.60" y="420.03" transform="rotate(0.05 291.60 420.03)" font-size="5.6" font-weight="bold" fill="#000" text-anchor="end"  stroke="#000" stroke-width="0.123">XPOT</text>
<line x1="291.90" y1="418.01" x2="294.65" y2="418.01" stroke="#000" stroke-width="0.8" />
<text x="291.60" y="426.22" transform="rotate(0.05 291.60 426.22)" font-size="5.6" font-weight="bold" fill="#000" text-anchor="end"  stroke="#000" stroke-width="0.123">XPO1</text>
<line x1="291.90" y1="424.21" x2="294.65" y2="424.21" stroke="#000" stroke-width="0.8" />
<text x="291.60" y="432.42" transform="rotate(0.05 291.60 432.42)" font-size="5.6" font-weight="bold" fill="#000" text-anchor="end"  stroke="#000" stroke-width="0.123">DCAF1</text>
<line x1="291.90" y1="430.40" x2="294.65" y2="430.40" stroke="#000" stroke-width="0.8" />
<text x="291.60" y="438.61" transform="rotate(0.05 291.60 438.61)" font-size="5.6" font-weight="bold" fill="#000" text-anchor="end"  stroke="#000" stroke-width="0.123">USP1</text>
<line x1="291.90" y1="436.60" x2="294.65" y2="436.60" stroke="#000" stroke-width="0.8" />
<text x="291.60" y="444.81" transform="rotate(0.05 291.60 444.81)" font-size="5.6" font-weight="bold" fill="#000" text-anchor="end"  stroke="#000" stroke-width="0.123">TOPBP1</text>
<line x1="291.90" y1="442.79" x2="294.65" y2="442.79" stroke="#000" stroke-width="0.8" />
<text x="291.60" y="451.01" transform="rotate(0.05 291.60 451.01)" font-size="5.6" font-weight="bold" fill="#000" text-anchor="end"  stroke="#000" stroke-width="0.123">CHAF1B</text>
<line x1="291.90" y1="448.99" x2="294.65" y2="448.99" stroke="#000" stroke-width="0.8" />
<text x="291.60" y="457.20" transform="rotate(0.05 291.60 457.20)" font-size="5.6" font-weight="bold" fill="#000" text-anchor="end"  stroke="#000" stroke-width="0.123">FBXO2</text>
<line x1="291.90" y1="455.19" x2="294.65" y2="455.19" stroke="#000" stroke-width="0.8" />
<text x="291.60" y="463.40" transform="rotate(0.05 291.60 463.40)" font-size="5.6" font-weight="bold" fill="#000" text-anchor="end"  stroke="#000" stroke-width="0.123">CAV1</text>
<line x1="291.90" y1="461.38" x2="294.65" y2="461.38" stroke="#000" stroke-width="0.8" />
<text x="291.60" y="469.59" transform="rotate(0.05 291.60 469.59)" font-size="5.6" font-weight="bold" fill="#000" text-anchor="end"  stroke="#000" stroke-width="0.123">LCN2</text>
<line x1="291.90" y1="467.58" x2="294.65" y2="467.58" stroke="#000" stroke-width="0.8" />
<text x="291.60" y="475.79" transform="rotate(0.05 291.60 475.79)" font-size="5.6" font-weight="bold" fill="#000" text-anchor="end"  stroke="#000" stroke-width="0.123">SLC9A1</text>
<line x1="291.90" y1="473.77" x2="294.65" y2="473.77" stroke="#000" stroke-width="0.8" />
<text x="291.60" y="481.99" transform="rotate(0.05 291.60 481.99)" font-size="5.6" font-weight="bold" fill="#000" text-anchor="end"  stroke="#000" stroke-width="0.123">STXBP1</text>
<line x1="291.90" y1="479.97" x2="294.65" y2="479.97" stroke="#000" stroke-width="0.8" />
<text x="291.60" y="488.18" transform="rotate(0.05 291.60 488.18)" font-size="5.6" font-weight="bold" fill="#000" text-anchor="end"  stroke="#000" stroke-width="0.123">FLOT2</text>
<line x1="291.90" y1="486.17" x2="294.65" y2="486.17" stroke="#000" stroke-width="0.8" />
<text x="291.60" y="494.38" transform="rotate(0.05 291.60 494.38)" font-size="5.6" font-weight="bold" fill="#000" text-anchor="end"  stroke="#000" stroke-width="0.123">PRMT1</text>
<line x1="291.90" y1="492.36" x2="294.65" y2="492.36" stroke="#000" stroke-width="0.8" />
<text x="291.60" y="500.57" transform="rotate(0.05 291.60 500.57)" font-size="5.6" font-weight="bold" fill="#000" text-anchor="end"  stroke="#000" stroke-width="0.123">PRMT5</text>
<line x1="291.90" y1="498.56" x2="294.65" y2="498.56" stroke="#000" stroke-width="0.8" />
<text x="291.60" y="506.77" transform="rotate(0.05 291.60 506.77)" font-size="5.6" font-weight="bold" fill="#000" text-anchor="end"  stroke="#000" stroke-width="0.123">LMNA</text>
<line x1="291.90" y1="504.75" x2="294.65" y2="504.75" stroke="#000" stroke-width="0.8" />
<text x="291.60" y="512.97" transform="rotate(0.05 291.60 512.97)" font-size="5.6" font-weight="bold" fill="#000" text-anchor="end"  stroke="#000" stroke-width="0.123">LAMC3</text>
<line x1="291.90" y1="510.95" x2="294.65" y2="510.95" stroke="#000" stroke-width="0.8" />
<text x="291.60" y="519.16" transform="rotate(0.05 291.60 519.16)" font-size="5.6" font-weight="bold" fill="#000" text-anchor="end"  stroke="#000" stroke-width="0.123">LAMB3</text>
<line x1="291.90" y1="517.15" x2="294.65" y2="517.15" stroke="#000" stroke-width="0.8" />
<text x="291.60" y="525.36" transform="rotate(0.05 291.60 525.36)" font-size="5.6" font-weight="bold" fill="#000" text-anchor="end"  stroke="#000" stroke-width="0.123">ITGA2</text>
<line x1="291.90" y1="523.34" x2="294.65" y2="523.34" stroke="#000" stroke-width="0.8" />
<text x="291.60" y="531.55" transform="rotate(0.05 291.60 531.55)" font-size="5.6" font-weight="bold" fill="#000" text-anchor="end"  stroke="#000" stroke-width="0.123">ITGA7</text>
<line x1="291.90" y1="529.54" x2="294.65" y2="529.54" stroke="#000" stroke-width="0.8" />
<text x="291.60" y="537.75" transform="rotate(0.05 291.60 537.75)" font-size="5.6" font-weight="bold" fill="#000" text-anchor="end"  stroke="#000" stroke-width="0.123">RIF1</text>
<line x1="291.90" y1="535.73" x2="294.65" y2="535.73" stroke="#000" stroke-width="0.8" />
<text x="291.60" y="543.95" transform="rotate(0.05 291.60 543.95)" font-size="5.6" font-weight="bold" fill="#000" text-anchor="end"  stroke="#000" stroke-width="0.123">XRCC2</text>
<line x1="291.90" y1="541.93" x2="294.65" y2="541.93" stroke="#000" stroke-width="0.8" />
<text x="291.60" y="550.14" transform="rotate(0.05 291.60 550.14)" font-size="5.6" font-weight="bold" fill="#000" text-anchor="end"  stroke="#000" stroke-width="0.123">CTSD</text>
<line x1="291.90" y1="548.13" x2="294.65" y2="548.13" stroke="#000" stroke-width="0.8" />
<text x="291.60" y="556.34" transform="rotate(0.05 291.60 556.34)" font-size="5.6" font-weight="bold" fill="#000" text-anchor="end"  stroke="#000" stroke-width="0.123">CTSB</text>
<line x1="291.90" y1="554.32" x2="294.65" y2="554.32" stroke="#000" stroke-width="0.8" />
<text x="291.60" y="562.53" transform="rotate(0.05 291.60 562.53)" font-size="5.6" font-weight="bold" fill="#000" text-anchor="end"  stroke="#000" stroke-width="0.123">CAPN5</text>
<line x1="291.90" y1="560.52" x2="294.65" y2="560.52" stroke="#000" stroke-width="0.8" />
<text x="291.60" y="568.73" transform="rotate(0.05 291.60 568.73)" font-size="5.6" font-weight="bold" fill="#000" text-anchor="end"  stroke="#000" stroke-width="0.123">AGRN</text>
<line x1="291.90" y1="566.71" x2="294.65" y2="566.71" stroke="#000" stroke-width="0.8" />
<text x="291.60" y="574.93" transform="rotate(0.05 291.60 574.93)" font-size="5.6" font-weight="bold" fill="#000" text-anchor="end"  stroke="#000" stroke-width="0.123">ABCA7</text>
<line x1="291.90" y1="572.91" x2="294.65" y2="572.91" stroke="#000" stroke-width="0.8" />
<text x="291.60" y="581.12" transform="rotate(0.05 291.60 581.12)" font-size="5.6" font-weight="bold" fill="#000" text-anchor="end"  stroke="#000" stroke-width="0.123">ABCG1</text>
<line x1="291.90" y1="579.11" x2="294.65" y2="579.11" stroke="#000" stroke-width="0.8" />
<text x="291.60" y="587.32" transform="rotate(0.05 291.60 587.32)" font-size="5.6" font-weight="bold" fill="#000" text-anchor="end"  stroke="#000" stroke-width="0.123">MAPK3</text>
<line x1="291.90" y1="585.30" x2="294.65" y2="585.30" stroke="#000" stroke-width="0.8" />
<text x="291.60" y="593.51" transform="rotate(0.05 291.60 593.51)" font-size="5.6" font-weight="bold" fill="#000" text-anchor="end"  stroke="#000" stroke-width="0.123">DUSP10</text>
<line x1="291.90" y1="591.50" x2="294.65" y2="591.50" stroke="#000" stroke-width="0.8" />
<text x="291.60" y="599.71" transform="rotate(0.05 291.60 599.71)" font-size="5.6" font-weight="bold" fill="#000" text-anchor="end"  stroke="#000" stroke-width="0.123">PCNA</text>
<line x1="291.90" y1="597.69" x2="294.65" y2="597.69" stroke="#000" stroke-width="0.8" />
<text x="291.60" y="605.91" transform="rotate(0.05 291.60 605.91)" font-size="5.6" font-weight="bold" fill="#000" text-anchor="end"  stroke="#000" stroke-width="0.123">POLD3</text>
<line x1="291.90" y1="603.89" x2="294.65" y2="603.89" stroke="#000" stroke-width="0.8" />
<text x="291.60" y="612.10" transform="rotate(0.05 291.60 612.10)" font-size="5.6" font-weight="bold" fill="#000" text-anchor="end"  stroke="#000" stroke-width="0.123">CLSPN</text>
<line x1="291.90" y1="610.09" x2="294.65" y2="610.09" stroke="#000" stroke-width="0.8" />
<text x="291.60" y="618.30" transform="rotate(0.05 291.60 618.30)" font-size="5.6" font-weight="bold" fill="#000" text-anchor="end"  stroke="#000" stroke-width="0.123">RSL1D1</text>
<line x1="291.90" y1="616.28" x2="294.65" y2="616.28" stroke="#000" stroke-width="0.8" />
<text x="291.60" y="624.49" transform="rotate(0.05 291.60 624.49)" font-size="5.6" font-weight="bold" fill="#000" text-anchor="end"  stroke="#000" stroke-width="0.123">RPL12</text>
<line x1="291.90" y1="622.48" x2="294.65" y2="622.48" stroke="#000" stroke-width="0.8" />
<text x="260.60" y="287.16" transform="rotate(0.05 260.60 287.16)" font-size="6.0" font-weight="bold" fill="#000" text-anchor="end"  stroke="#000" stroke-width="0.132">DNA replication/</text>
<text x="260.60" y="294.16" transform="rotate(0.05 260.60 294.16)" font-size="6.0" font-weight="bold" fill="#000" text-anchor="end"  stroke="#000" stroke-width="0.132">cell cycle</text>
<text x="260.60" y="304.96" transform="rotate(0.05 260.60 304.96)" font-size="6.0" font-weight="bold" fill="#000" text-anchor="end"  stroke="#000" stroke-width="0.132">RNA</text>
<text x="260.60" y="312.16" transform="rotate(0.05 260.60 312.16)" font-size="6.0" font-weight="bold" fill="#000" text-anchor="end"  stroke="#000" stroke-width="0.132">processing</text>
<text x="260.60" y="321.36" transform="rotate(0.05 260.60 321.36)" font-size="6.0" font-weight="bold" fill="#000" text-anchor="end"  stroke="#000" stroke-width="0.132">DNA</text>
<text x="260.60" y="328.16" transform="rotate(0.05 260.60 328.16)" font-size="6.0" font-weight="bold" fill="#000" text-anchor="end"  stroke="#000" stroke-width="0.132">repair/processing</text>
<text x="260.60" y="339.16" transform="rotate(0.05 260.60 339.16)" font-size="6.0" font-weight="bold" fill="#000" text-anchor="end"  stroke="#000" stroke-width="0.132">metabolic</text>
<text x="260.60" y="345.76" transform="rotate(0.05 260.60 345.76)" font-size="6.0" font-weight="bold" fill="#000" text-anchor="end"  stroke="#000" stroke-width="0.132">reprogramming</text>
<text x="260.60" y="352.36" transform="rotate(0.05 260.60 352.36)" font-size="6.0" font-weight="bold" fill="#000" text-anchor="end"  stroke="#000" stroke-width="0.132">in</text>
<text x="260.60" y="359.36" transform="rotate(0.05 260.60 359.36)" font-size="6.0" font-weight="bold" fill="#000" text-anchor="end"  stroke="#000" stroke-width="0.132">cancer</text>
<text x="260.60" y="374.16" transform="rotate(0.05 260.60 374.16)" font-size="6.0" font-weight="bold" fill="#000" text-anchor="end"  stroke="#000" stroke-width="0.132">RNA</text>
<text x="260.60" y="381.16" transform="rotate(0.05 260.60 381.16)" font-size="6.0" font-weight="bold" fill="#000" text-anchor="end"  stroke="#000" stroke-width="0.132">processing</text>
<text x="260.60" y="391.76" transform="rotate(0.05 260.60 391.76)" font-size="6.0" font-weight="bold" fill="#000" text-anchor="end"  stroke="#000" stroke-width="0.132">chaperones/ER/</text>
<text x="260.60" y="398.56" transform="rotate(0.05 260.60 398.56)" font-size="6.0" font-weight="bold" fill="#000" text-anchor="end"  stroke="#000" stroke-width="0.132">spliceosome</text>
<text x="260.60" y="410.66" transform="rotate(0.05 260.60 410.66)" font-size="6.0" font-weight="bold" fill="#000" text-anchor="end"  stroke="#000" stroke-width="0.132">nuclear pore/</text>
<text x="260.60" y="417.36" transform="rotate(0.05 260.60 417.36)" font-size="6.0" font-weight="bold" fill="#000" text-anchor="end"  stroke="#000" stroke-width="0.132">neurodegen. dieseases</text>
<text x="260.60" y="438.96" transform="rotate(0.05 260.60 438.96)" font-size="6.0" font-weight="bold" fill="#000" text-anchor="end"  stroke="#000" stroke-width="0.132">ubiquitin-med. proteolysis/</text>
<text x="260.60" y="445.46" transform="rotate(0.05 260.60 445.46)" font-size="6.0" font-weight="bold" fill="#000" text-anchor="end"  stroke="#000" stroke-width="0.132">DNA repair</text>
<text x="260.60" y="464.16" transform="rotate(0.05 260.60 464.16)" font-size="6.0" font-weight="bold" fill="#000" text-anchor="end"  stroke="#000" stroke-width="0.132">cellular response to stress</text>
<text x="260.60" y="485.26" transform="rotate(0.05 260.60 485.26)" font-size="6.0" font-weight="bold" fill="#000" text-anchor="end"  stroke="#000" stroke-width="0.132">vesicle trafficking</text>
<text x="260.60" y="498.36" transform="rotate(0.05 260.60 498.36)" font-size="6.0" font-weight="bold" fill="#000" text-anchor="end"  stroke="#000" stroke-width="0.132">nucleus and</text>
<text x="260.60" y="505.36" transform="rotate(0.05 260.60 505.36)" font-size="6.0" font-weight="bold" fill="#000" text-anchor="end"  stroke="#000" stroke-width="0.132">chromatin organisation</text>
<text x="260.60" y="522.76" transform="rotate(0.05 260.60 522.76)" font-size="6.0" font-weight="bold" fill="#000" text-anchor="end"  stroke="#000" stroke-width="0.132">focal adhesion</text>
<text x="260.60" y="538.56" transform="rotate(0.05 260.60 538.56)" font-size="6.0" font-weight="bold" fill="#000" text-anchor="end"  stroke="#000" stroke-width="0.132">DNA</text>
<text x="260.60" y="545.36" transform="rotate(0.05 260.60 545.36)" font-size="6.0" font-weight="bold" fill="#000" text-anchor="end"  stroke="#000" stroke-width="0.132">repair/processing</text>
<text x="260.60" y="558.46" transform="rotate(0.05 260.60 558.46)" font-size="6.0" font-weight="bold" fill="#000" text-anchor="end"  stroke="#000" stroke-width="0.132">proteases/lysosome</text>
<text x="260.60" y="573.76" transform="rotate(0.05 260.60 573.76)" font-size="6.0" font-weight="bold" fill="#000" text-anchor="end"  stroke="#000" stroke-width="0.132">extracellular matrix</text>
<text x="260.60" y="580.56" transform="rotate(0.05 260.60 580.56)" font-size="6.0" font-weight="bold" fill="#000" text-anchor="end"  stroke="#000" stroke-width="0.132">interactions</text>
<text x="260.60" y="587.46" transform="rotate(0.05 260.60 587.46)" font-size="6.0" font-weight="bold" fill="#000" text-anchor="end"  stroke="#000" stroke-width="0.132">oncogenic</text>
<text x="260.60" y="594.36" transform="rotate(0.05 260.60 594.36)" font-size="6.0" font-weight="bold" fill="#000" text-anchor="end"  stroke="#000" stroke-width="0.132">signaling pathways</text>
<text x="260.60" y="603.76" transform="rotate(0.05 260.60 603.76)" font-size="6.0" font-weight="bold" fill="#000" text-anchor="end"  stroke="#000" stroke-width="0.132">cell cycle/</text>
<text x="260.60" y="610.56" transform="rotate(0.05 260.60 610.56)" font-size="6.0" font-weight="bold" fill="#000" text-anchor="end"  stroke="#000" stroke-width="0.132">RB1 gene in cancer</text>
<text x="260.60" y="621.16" transform="rotate(0.05 260.60 621.16)" font-size="6.0" font-weight="bold" fill="#000" text-anchor="end"  stroke="#000" stroke-width="0.132">ribosome</text>
<line x1="264.40" y1="279.50" x2="264.40" y2="296.29" stroke="#333" stroke-width="0.55" />
<line x1="264.40" y1="298.09" x2="264.40" y2="314.88" stroke="#333" stroke-width="0.55" />
<line x1="264.40" y1="316.68" x2="264.40" y2="327.27" stroke="#333" stroke-width="0.55" />
<line x1="264.40" y1="329.07" x2="264.40" y2="364.44" stroke="#333" stroke-width="0.55" />
<line x1="264.40" y1="366.24" x2="264.40" y2="383.03" stroke="#333" stroke-width="0.55" />
<line x1="264.40" y1="384.83" x2="264.40" y2="401.62" stroke="#333" stroke-width="0.55" />
<line x1="264.40" y1="403.42" x2="264.40" y2="426.40" stroke="#333" stroke-width="0.55" />
<line x1="264.40" y1="428.20" x2="264.40" y2="451.19" stroke="#333" stroke-width="0.55" />
<line x1="264.40" y1="452.99" x2="264.40" y2="469.78" stroke="#333" stroke-width="0.55" />
<line x1="264.40" y1="471.58" x2="264.40" y2="488.36" stroke="#333" stroke-width="0.55" />
<line x1="264.40" y1="490.16" x2="264.40" y2="506.95" stroke="#333" stroke-width="0.55" />
<line x1="264.40" y1="508.75" x2="264.40" y2="531.74" stroke="#333" stroke-width="0.55" />
<line x1="264.40" y1="533.54" x2="264.40" y2="544.13" stroke="#333" stroke-width="0.55" />
<line x1="264.40" y1="545.93" x2="264.40" y2="562.72" stroke="#333" stroke-width="0.55" />
<line x1="264.40" y1="564.52" x2="264.40" y2="581.30" stroke="#333" stroke-width="0.55" />
<line x1="264.40" y1="583.10" x2="264.40" y2="593.70" stroke="#333" stroke-width="0.55" />
<line x1="264.40" y1="595.50" x2="264.40" y2="612.28" stroke="#333" stroke-width="0.55" />
<line x1="264.40" y1="614.08" x2="264.40" y2="624.68" stroke="#333" stroke-width="0.55" />
<line x1="306.91" y1="625.58" x2="306.91" y2="627.58" stroke="#000" stroke-width="0.6" />
<text transform="translate(308.51,628.38) rotate(-89.95)" font-size="5.9" font-weight="bold" text-anchor="end" stroke="#000" stroke-width="0.12">mutant TP53 Protein</text>
<line x1="331.44" y1="625.58" x2="331.44" y2="627.58" stroke="#000" stroke-width="0.6" />
<text transform="translate(333.04,628.38) rotate(-89.95)" font-size="5.9" font-weight="bold" text-anchor="end" stroke="#000" stroke-width="0.12">mutant TP53 mRNA</text>
<line x1="355.96" y1="625.58" x2="355.96" y2="627.58" stroke="#000" stroke-width="0.6" />
<text transform="translate(357.56,628.38) rotate(-89.95)" font-size="5.9" font-weight="bold" text-anchor="end" stroke="#000" stroke-width="0.12">MYC Protein</text>
<line x1="380.49" y1="625.58" x2="380.49" y2="627.58" stroke="#000" stroke-width="0.6" />
<text transform="translate(382.09,628.38) rotate(-89.95)" font-size="5.9" font-weight="bold" text-anchor="end" stroke="#000" stroke-width="0.12">MYC mRNA</text>
<line x1="405.01" y1="625.58" x2="405.01" y2="627.58" stroke="#000" stroke-width="0.6" />
<text transform="translate(406.61,628.38) rotate(-89.95)" font-size="5.9" font-weight="bold" text-anchor="end" stroke="#000" stroke-width="0.12">mutant KRAS Prot.</text>
<line x1="429.54" y1="625.58" x2="429.54" y2="627.58" stroke="#000" stroke-width="0.6" />
<text transform="translate(431.14,628.38) rotate(-89.95)" font-size="5.9" font-weight="bold" text-anchor="end" stroke="#000" stroke-width="0.12">mutant KRAS mRNA</text>
<line x1="447.80" y1="284.80" x2="474.10" y2="284.80" stroke="#222" stroke-width="0.45" />
<line x1="447.80" y1="290.99" x2="474.10" y2="290.99" stroke="#222" stroke-width="0.45" />
<line x1="447.80" y1="297.19" x2="474.10" y2="297.19" stroke="#222" stroke-width="0.45" />
<line x1="447.80" y1="303.38" x2="474.10" y2="303.38" stroke="#222" stroke-width="0.45" />
<line x1="447.80" y1="309.58" x2="474.10" y2="309.58" stroke="#222" stroke-width="0.45" />
<line x1="447.80" y1="315.78" x2="474.10" y2="315.78" stroke="#222" stroke-width="0.45" />
<line x1="447.80" y1="321.97" x2="474.10" y2="321.97" stroke="#222" stroke-width="0.45" />
<line x1="447.80" y1="328.17" x2="474.10" y2="328.17" stroke="#222" stroke-width="0.45" />
<line x1="447.80" y1="334.36" x2="474.10" y2="334.36" stroke="#222" stroke-width="0.45" />
<line x1="447.80" y1="340.56" x2="474.10" y2="340.56" stroke="#222" stroke-width="0.45" />
<line x1="447.80" y1="346.76" x2="474.10" y2="346.76" stroke="#222" stroke-width="0.45" />
<line x1="447.80" y1="352.95" x2="474.10" y2="352.95" stroke="#222" stroke-width="0.45" />
<line x1="447.80" y1="359.15" x2="474.10" y2="359.15" stroke="#222" stroke-width="0.45" />
<line x1="447.80" y1="365.34" x2="474.10" y2="365.34" stroke="#222" stroke-width="0.45" />
<line x1="447.80" y1="371.54" x2="474.10" y2="371.54" stroke="#222" stroke-width="0.45" />
<line x1="447.80" y1="377.74" x2="474.10" y2="377.74" stroke="#222" stroke-width="0.45" />
<line x1="447.80" y1="383.93" x2="474.10" y2="383.93" stroke="#222" stroke-width="0.45" />
<line x1="447.80" y1="390.13" x2="474.10" y2="390.13" stroke="#222" stroke-width="0.45" />
<line x1="447.80" y1="396.32" x2="474.10" y2="396.32" stroke="#222" stroke-width="0.45" />
<line x1="447.80" y1="402.52" x2="474.10" y2="402.52" stroke="#222" stroke-width="0.45" />
<line x1="447.80" y1="408.72" x2="474.10" y2="408.72" stroke="#222" stroke-width="0.45" />
<line x1="447.80" y1="414.91" x2="474.10" y2="414.91" stroke="#222" stroke-width="0.45" />
<line x1="447.80" y1="421.11" x2="474.10" y2="421.11" stroke="#222" stroke-width="0.45" />
<line x1="447.80" y1="427.30" x2="474.10" y2="427.30" stroke="#222" stroke-width="0.45" />
<line x1="447.80" y1="433.50" x2="474.10" y2="433.50" stroke="#222" stroke-width="0.45" />
<line x1="447.80" y1="439.70" x2="474.10" y2="439.70" stroke="#222" stroke-width="0.45" />
<line x1="447.80" y1="445.89" x2="474.10" y2="445.89" stroke="#222" stroke-width="0.45" />
<line x1="447.80" y1="452.09" x2="474.10" y2="452.09" stroke="#222" stroke-width="0.45" />
<line x1="447.80" y1="458.28" x2="474.10" y2="458.28" stroke="#222" stroke-width="0.45" />
<line x1="447.80" y1="464.48" x2="474.10" y2="464.48" stroke="#222" stroke-width="0.45" />
<line x1="447.80" y1="470.68" x2="474.10" y2="470.68" stroke="#222" stroke-width="0.45" />
<line x1="447.80" y1="476.87" x2="474.10" y2="476.87" stroke="#222" stroke-width="0.45" />
<line x1="447.80" y1="483.07" x2="474.10" y2="483.07" stroke="#222" stroke-width="0.45" />
<line x1="447.80" y1="489.26" x2="474.10" y2="489.26" stroke="#222" stroke-width="0.45" />
<line x1="447.80" y1="495.46" x2="474.10" y2="495.46" stroke="#222" stroke-width="0.45" />
<line x1="447.80" y1="501.66" x2="474.10" y2="501.66" stroke="#222" stroke-width="0.45" />
<line x1="447.80" y1="507.85" x2="474.10" y2="507.85" stroke="#222" stroke-width="0.45" />
<line x1="447.80" y1="514.05" x2="474.10" y2="514.05" stroke="#222" stroke-width="0.45" />
<line x1="447.80" y1="520.24" x2="474.10" y2="520.24" stroke="#222" stroke-width="0.45" />
<line x1="447.80" y1="526.44" x2="474.10" y2="526.44" stroke="#222" stroke-width="0.45" />
<line x1="447.80" y1="532.64" x2="474.10" y2="532.64" stroke="#222" stroke-width="0.45" />
<line x1="447.80" y1="538.83" x2="474.10" y2="538.83" stroke="#222" stroke-width="0.45" />
<line x1="447.80" y1="545.03" x2="474.10" y2="545.03" stroke="#222" stroke-width="0.45" />
<line x1="447.80" y1="551.22" x2="474.10" y2="551.22" stroke="#222" stroke-width="0.45" />
<line x1="447.80" y1="557.42" x2="474.10" y2="557.42" stroke="#222" stroke-width="0.45" />
<line x1="447.80" y1="563.62" x2="474.10" y2="563.62" stroke="#222" stroke-width="0.45" />
<line x1="447.80" y1="569.81" x2="474.10" y2="569.81" stroke="#222" stroke-width="0.45" />
<line x1="447.80" y1="576.01" x2="474.10" y2="576.01" stroke="#222" stroke-width="0.45" />
<line x1="447.80" y1="582.20" x2="474.10" y2="582.20" stroke="#222" stroke-width="0.45" />
<line x1="447.80" y1="588.40" x2="474.10" y2="588.40" stroke="#222" stroke-width="0.45" />
<line x1="447.80" y1="594.60" x2="474.10" y2="594.60" stroke="#222" stroke-width="0.45" />
<line x1="447.80" y1="600.79" x2="474.10" y2="600.79" stroke="#222" stroke-width="0.45" />
<line x1="447.80" y1="606.99" x2="474.10" y2="606.99" stroke="#222" stroke-width="0.45" />
<line x1="447.80" y1="613.18" x2="474.10" y2="613.18" stroke="#222" stroke-width="0.45" />
<line x1="447.80" y1="619.38" x2="474.10" y2="619.38" stroke="#222" stroke-width="0.45" />
<line x1="461.20" y1="278.60" x2="461.20" y2="625.58" stroke="#222" stroke-width="0.5" />
<rect x="447.8" y="278.6" width="26.30" height="346.98" fill="none" stroke="#000" stroke-width="1.3"/>
<text x="454.50" y="283.17" transform="rotate(0.05 454.50 283.17)" font-size="4.1" font-weight="normal" fill="#222" text-anchor="middle" >6</text>
<text x="467.65" y="283.17" transform="rotate(0.05 467.65 283.17)" font-size="4.1" font-weight="normal" fill="#222" text-anchor="middle" >9</text>
<text x="454.50" y="289.37" transform="rotate(0.05 454.50 289.37)" font-size="4.1" font-weight="normal" fill="#222" text-anchor="middle" >7</text>
<text x="467.65" y="289.37" transform="rotate(0.05 467.65 289.37)" font-size="4.1" font-weight="normal" fill="#222" text-anchor="middle" >8</text>
<text x="454.50" y="295.57" transform="rotate(0.05 454.50 295.57)" font-size="4.1" font-weight="normal" fill="#222" text-anchor="middle" >8</text>
<text x="467.65" y="295.57" transform="rotate(0.05 467.65 295.57)" font-size="4.1" font-weight="normal" fill="#222" text-anchor="middle" >8</text>
<text x="454.50" y="301.76" transform="rotate(0.05 454.50 301.76)" font-size="4.1" font-weight="normal" fill="#222" text-anchor="middle" >7</text>
<text x="467.65" y="301.76" transform="rotate(0.05 467.65 301.76)" font-size="4.1" font-weight="normal" fill="#222" text-anchor="middle" >8</text>
<text x="454.50" y="307.96" transform="rotate(0.05 454.50 307.96)" font-size="4.1" font-weight="normal" fill="#222" text-anchor="middle" >7</text>
<text x="467.65" y="307.96" transform="rotate(0.05 467.65 307.96)" font-size="4.1" font-weight="normal" fill="#222" text-anchor="middle" >7</text>
<text x="454.50" y="314.15" transform="rotate(0.05 454.50 314.15)" font-size="4.1" font-weight="normal" fill="#222" text-anchor="middle" >0</text>
<text x="467.65" y="314.15" transform="rotate(0.05 467.65 314.15)" font-size="4.1" font-weight="normal" fill="#222" text-anchor="middle" >9</text>
<text x="454.50" y="320.35" transform="rotate(0.05 454.50 320.35)" font-size="4.1" font-weight="normal" fill="#222" text-anchor="middle" >7</text>
<text x="467.65" y="320.35" transform="rotate(0.05 467.65 320.35)" font-size="4.1" font-weight="normal" fill="#222" text-anchor="middle" >8</text>
<text x="454.50" y="326.55" transform="rotate(0.05 454.50 326.55)" font-size="4.1" font-weight="normal" fill="#222" text-anchor="middle" >6</text>
<text x="467.65" y="326.55" transform="rotate(0.05 467.65 326.55)" font-size="4.1" font-weight="normal" fill="#222" text-anchor="middle" >8</text>
<text x="454.50" y="332.74" transform="rotate(0.05 454.50 332.74)" font-size="4.1" font-weight="normal" fill="#222" text-anchor="middle" >6</text>
<text x="467.65" y="332.74" transform="rotate(0.05 467.65 332.74)" font-size="4.1" font-weight="normal" fill="#222" text-anchor="middle" >6</text>
<text x="454.50" y="338.94" transform="rotate(0.05 454.50 338.94)" font-size="4.1" font-weight="normal" fill="#222" text-anchor="middle" >7</text>
<text x="467.65" y="338.94" transform="rotate(0.05 467.65 338.94)" font-size="4.1" font-weight="normal" fill="#222" text-anchor="middle" >7</text>
<text x="454.50" y="345.13" transform="rotate(0.05 454.50 345.13)" font-size="4.1" font-weight="normal" fill="#222" text-anchor="middle" >5</text>
<text x="467.65" y="345.13" transform="rotate(0.05 467.65 345.13)" font-size="4.1" font-weight="normal" fill="#222" text-anchor="middle" >9</text>
<text x="454.50" y="351.33" transform="rotate(0.05 454.50 351.33)" font-size="4.1" font-weight="normal" fill="#222" text-anchor="middle" >6</text>
<text x="467.65" y="351.33" transform="rotate(0.05 467.65 351.33)" font-size="4.1" font-weight="normal" fill="#222" text-anchor="middle" >7</text>
<text x="454.50" y="357.53" transform="rotate(0.05 454.50 357.53)" font-size="4.1" font-weight="normal" fill="#222" text-anchor="middle" >4</text>
<text x="467.65" y="357.53" transform="rotate(0.05 467.65 357.53)" font-size="4.1" font-weight="normal" fill="#222" text-anchor="middle" >9</text>
<text x="454.50" y="363.72" transform="rotate(0.05 454.50 363.72)" font-size="4.1" font-weight="normal" fill="#222" text-anchor="middle" >8</text>
<text x="467.65" y="363.72" transform="rotate(0.05 467.65 363.72)" font-size="4.1" font-weight="normal" fill="#222" text-anchor="middle" >8</text>
<text x="454.50" y="369.92" transform="rotate(0.05 454.50 369.92)" font-size="4.1" font-weight="normal" fill="#222" text-anchor="middle" >8</text>
<text x="467.65" y="369.92" transform="rotate(0.05 467.65 369.92)" font-size="4.1" font-weight="normal" fill="#222" text-anchor="middle" >8</text>
<text x="454.50" y="376.11" transform="rotate(0.05 454.50 376.11)" font-size="4.1" font-weight="normal" fill="#222" text-anchor="middle" >5</text>
<text x="467.65" y="376.11" transform="rotate(0.05 467.65 376.11)" font-size="4.1" font-weight="normal" fill="#222" text-anchor="middle" >6</text>
<text x="454.50" y="382.31" transform="rotate(0.05 454.50 382.31)" font-size="4.1" font-weight="normal" fill="#222" text-anchor="middle" >5</text>
<text x="467.65" y="382.31" transform="rotate(0.05 467.65 382.31)" font-size="4.1" font-weight="normal" fill="#222" text-anchor="middle" >8</text>
<text x="454.50" y="388.51" transform="rotate(0.05 454.50 388.51)" font-size="4.1" font-weight="normal" fill="#222" text-anchor="middle" >7</text>
<text x="467.65" y="388.51" transform="rotate(0.05 467.65 388.51)" font-size="4.1" font-weight="normal" fill="#222" text-anchor="middle" >10</text>
<text x="454.50" y="394.70" transform="rotate(0.05 454.50 394.70)" font-size="4.1" font-weight="normal" fill="#222" text-anchor="middle" >6</text>
<text x="467.65" y="394.70" transform="rotate(0.05 467.65 394.70)" font-size="4.1" font-weight="normal" fill="#222" text-anchor="middle" >0</text>
<text x="454.50" y="400.90" transform="rotate(0.05 454.50 400.90)" font-size="4.1" font-weight="normal" fill="#222" text-anchor="middle" >0</text>
<text x="467.65" y="400.90" transform="rotate(0.05 467.65 400.90)" font-size="4.1" font-weight="normal" fill="#222" text-anchor="middle" >6</text>
<text x="454.50" y="407.09" transform="rotate(0.05 454.50 407.09)" font-size="4.1" font-weight="normal" fill="#222" text-anchor="middle" >6</text>
<text x="467.65" y="407.09" transform="rotate(0.05 467.65 407.09)" font-size="4.1" font-weight="normal" fill="#222" text-anchor="middle" >6</text>
<text x="454.50" y="413.29" transform="rotate(0.05 454.50 413.29)" font-size="4.1" font-weight="normal" fill="#222" text-anchor="middle" >5</text>
<text x="467.65" y="413.29" transform="rotate(0.05 467.65 413.29)" font-size="4.1" font-weight="normal" fill="#222" text-anchor="middle" >9</text>
<text x="454.50" y="419.49" transform="rotate(0.05 454.50 419.49)" font-size="4.1" font-weight="normal" fill="#222" text-anchor="middle" >6</text>
<text x="467.65" y="419.49" transform="rotate(0.05 467.65 419.49)" font-size="4.1" font-weight="normal" fill="#222" text-anchor="middle" >10</text>
<text x="454.50" y="425.68" transform="rotate(0.05 454.50 425.68)" font-size="4.1" font-weight="normal" fill="#222" text-anchor="middle" >3</text>
<text x="467.65" y="425.68" transform="rotate(0.05 467.65 425.68)" font-size="4.1" font-weight="normal" fill="#222" text-anchor="middle" >8</text>
<text x="454.50" y="431.88" transform="rotate(0.05 454.50 431.88)" font-size="4.1" font-weight="normal" fill="#222" text-anchor="middle" >0</text>
<text x="467.65" y="431.88" transform="rotate(0.05 467.65 431.88)" font-size="4.1" font-weight="normal" fill="#222" text-anchor="middle" >8</text>
<text x="454.50" y="438.07" transform="rotate(0.05 454.50 438.07)" font-size="4.1" font-weight="normal" fill="#222" text-anchor="middle" >0</text>
<text x="467.65" y="438.07" transform="rotate(0.05 467.65 438.07)" font-size="4.1" font-weight="normal" fill="#222" text-anchor="middle" >11</text>
<text x="454.50" y="444.27" transform="rotate(0.05 454.50 444.27)" font-size="4.1" font-weight="normal" fill="#222" text-anchor="middle" >5</text>
<text x="467.65" y="444.27" transform="rotate(0.05 467.65 444.27)" font-size="4.1" font-weight="normal" fill="#222" text-anchor="middle" >9</text>
<text x="454.50" y="450.47" transform="rotate(0.05 454.50 450.47)" font-size="4.1" font-weight="normal" fill="#222" text-anchor="middle" >7</text>
<text x="467.65" y="450.47" transform="rotate(0.05 467.65 450.47)" font-size="4.1" font-weight="normal" fill="#222" text-anchor="middle" >9</text>
<text x="454.50" y="456.66" transform="rotate(0.05 454.50 456.66)" font-size="4.1" font-weight="normal" fill="#222" text-anchor="middle" >4</text>
<text x="467.65" y="456.66" transform="rotate(0.05 467.65 456.66)" font-size="4.1" font-weight="normal" fill="#222" text-anchor="middle" >9</text>
<text x="454.50" y="462.86" transform="rotate(0.05 454.50 462.86)" font-size="4.1" font-weight="normal" fill="#222" text-anchor="middle" >8</text>
<text x="467.65" y="462.86" transform="rotate(0.05 467.65 462.86)" font-size="4.1" font-weight="normal" fill="#222" text-anchor="middle" >8</text>
<text x="454.50" y="469.05" transform="rotate(0.05 454.50 469.05)" font-size="4.1" font-weight="normal" fill="#222" text-anchor="middle" >0</text>
<text x="467.65" y="469.05" transform="rotate(0.05 467.65 469.05)" font-size="4.1" font-weight="normal" fill="#222" text-anchor="middle" >8</text>
<text x="454.50" y="475.25" transform="rotate(0.05 454.50 475.25)" font-size="4.1" font-weight="normal" fill="#222" text-anchor="middle" >5</text>
<text x="467.65" y="475.25" transform="rotate(0.05 467.65 475.25)" font-size="4.1" font-weight="normal" fill="#222" text-anchor="middle" >9</text>
<text x="454.50" y="481.45" transform="rotate(0.05 454.50 481.45)" font-size="4.1" font-weight="normal" fill="#222" text-anchor="middle" >6</text>
<text x="467.65" y="481.45" transform="rotate(0.05 467.65 481.45)" font-size="4.1" font-weight="normal" fill="#222" text-anchor="middle" >5</text>
<text x="454.50" y="487.64" transform="rotate(0.05 454.50 487.64)" font-size="4.1" font-weight="normal" fill="#222" text-anchor="middle" >6</text>
<text x="467.65" y="487.64" transform="rotate(0.05 467.65 487.64)" font-size="4.1" font-weight="normal" fill="#222" text-anchor="middle" >6</text>
<text x="454.50" y="493.84" transform="rotate(0.05 454.50 493.84)" font-size="4.1" font-weight="normal" fill="#222" text-anchor="middle" >8</text>
<text x="467.65" y="493.84" transform="rotate(0.05 467.65 493.84)" font-size="4.1" font-weight="normal" fill="#222" text-anchor="middle" >7</text>
<text x="454.50" y="500.03" transform="rotate(0.05 454.50 500.03)" font-size="4.1" font-weight="normal" fill="#222" text-anchor="middle" >8</text>
<text x="467.65" y="500.03" transform="rotate(0.05 467.65 500.03)" font-size="4.1" font-weight="normal" fill="#222" text-anchor="middle" >8</text>
<text x="454.50" y="506.23" transform="rotate(0.05 454.50 506.23)" font-size="4.1" font-weight="normal" fill="#222" text-anchor="middle" >6</text>
<text x="467.65" y="506.23" transform="rotate(0.05 467.65 506.23)" font-size="4.1" font-weight="normal" fill="#222" text-anchor="middle" >6</text>
<text x="454.50" y="512.43" transform="rotate(0.05 454.50 512.43)" font-size="4.1" font-weight="normal" fill="#222" text-anchor="middle" >3</text>
<text x="467.65" y="512.43" transform="rotate(0.05 467.65 512.43)" font-size="4.1" font-weight="normal" fill="#222" text-anchor="middle" >5</text>
<text x="454.50" y="518.62" transform="rotate(0.05 454.50 518.62)" font-size="4.1" font-weight="normal" fill="#222" text-anchor="middle" >0</text>
<text x="467.65" y="518.62" transform="rotate(0.05 467.65 518.62)" font-size="4.1" font-weight="normal" fill="#222" text-anchor="middle" >9</text>
<text x="454.50" y="524.82" transform="rotate(0.05 454.50 524.82)" font-size="4.1" font-weight="normal" fill="#222" text-anchor="middle" >0</text>
<text x="467.65" y="524.82" transform="rotate(0.05 467.65 524.82)" font-size="4.1" font-weight="normal" fill="#222" text-anchor="middle" >9</text>
<text x="454.50" y="531.01" transform="rotate(0.05 454.50 531.01)" font-size="4.1" font-weight="normal" fill="#222" text-anchor="middle" >0</text>
<text x="467.65" y="531.01" transform="rotate(0.05 467.65 531.01)" font-size="4.1" font-weight="normal" fill="#222" text-anchor="middle" >9</text>
<text x="454.50" y="537.21" transform="rotate(0.05 454.50 537.21)" font-size="4.1" font-weight="normal" fill="#222" text-anchor="middle" >7</text>
<text x="467.65" y="537.21" transform="rotate(0.05 467.65 537.21)" font-size="4.1" font-weight="normal" fill="#222" text-anchor="middle" >10</text>
<text x="454.50" y="543.41" transform="rotate(0.05 454.50 543.41)" font-size="4.1" font-weight="normal" fill="#222" text-anchor="middle" >0</text>
<text x="467.65" y="543.41" transform="rotate(0.05 467.65 543.41)" font-size="4.1" font-weight="normal" fill="#222" text-anchor="middle" >10</text>
<text x="454.50" y="549.60" transform="rotate(0.05 454.50 549.60)" font-size="4.1" font-weight="normal" fill="#222" text-anchor="middle" >6</text>
<text x="467.65" y="549.60" transform="rotate(0.05 467.65 549.60)" font-size="4.1" font-weight="normal" fill="#222" text-anchor="middle" >9</text>
<text x="454.50" y="555.80" transform="rotate(0.05 454.50 555.80)" font-size="4.1" font-weight="normal" fill="#222" text-anchor="middle" >3</text>
<text x="467.65" y="555.80" transform="rotate(0.05 467.65 555.80)" font-size="4.1" font-weight="normal" fill="#222" text-anchor="middle" >8</text>
<text x="454.50" y="561.99" transform="rotate(0.05 454.50 561.99)" font-size="4.1" font-weight="normal" fill="#222" text-anchor="middle" >5</text>
<text x="467.65" y="561.99" transform="rotate(0.05 467.65 561.99)" font-size="4.1" font-weight="normal" fill="#222" text-anchor="middle" >10</text>
<text x="454.50" y="568.19" transform="rotate(0.05 454.50 568.19)" font-size="4.1" font-weight="normal" fill="#222" text-anchor="middle" >5</text>
<text x="467.65" y="568.19" transform="rotate(0.05 467.65 568.19)" font-size="4.1" font-weight="normal" fill="#222" text-anchor="middle" >7</text>
<text x="454.50" y="574.39" transform="rotate(0.05 454.50 574.39)" font-size="4.1" font-weight="normal" fill="#222" text-anchor="middle" >0</text>
<text x="467.65" y="574.39" transform="rotate(0.05 467.65 574.39)" font-size="4.1" font-weight="normal" fill="#222" text-anchor="middle" >9</text>
<text x="454.50" y="580.58" transform="rotate(0.05 454.50 580.58)" font-size="4.1" font-weight="normal" fill="#222" text-anchor="middle" >0</text>
<text x="467.65" y="580.58" transform="rotate(0.05 467.65 580.58)" font-size="4.1" font-weight="normal" fill="#222" text-anchor="middle" >7</text>
<text x="454.50" y="586.78" transform="rotate(0.05 454.50 586.78)" font-size="4.1" font-weight="normal" fill="#222" text-anchor="middle" >6</text>
<text x="467.65" y="586.78" transform="rotate(0.05 467.65 586.78)" font-size="4.1" font-weight="normal" fill="#222" text-anchor="middle" >5</text>
<text x="454.50" y="592.97" transform="rotate(0.05 454.50 592.97)" font-size="4.1" font-weight="normal" fill="#222" text-anchor="middle" >0</text>
<text x="467.65" y="592.97" transform="rotate(0.05 467.65 592.97)" font-size="4.1" font-weight="normal" fill="#222" text-anchor="middle" >8</text>
<text x="454.50" y="599.17" transform="rotate(0.05 454.50 599.17)" font-size="4.1" font-weight="normal" fill="#222" text-anchor="middle" >6</text>
<text x="467.65" y="599.17" transform="rotate(0.05 467.65 599.17)" font-size="4.1" font-weight="normal" fill="#222" text-anchor="middle" >9</text>
<text x="454.50" y="605.37" transform="rotate(0.05 454.50 605.37)" font-size="4.1" font-weight="normal" fill="#222" text-anchor="middle" >3</text>
<text x="467.65" y="605.37" transform="rotate(0.05 467.65 605.37)" font-size="4.1" font-weight="normal" fill="#222" text-anchor="middle" >9</text>
<text x="454.50" y="611.56" transform="rotate(0.05 454.50 611.56)" font-size="4.1" font-weight="normal" fill="#222" text-anchor="middle" >0</text>
<text x="467.65" y="611.56" transform="rotate(0.05 467.65 611.56)" font-size="4.1" font-weight="normal" fill="#222" text-anchor="middle" >10</text>
<text x="454.50" y="617.76" transform="rotate(0.05 454.50 617.76)" font-size="4.1" font-weight="normal" fill="#222" text-anchor="middle" >7</text>
<text x="467.65" y="617.76" transform="rotate(0.05 467.65 617.76)" font-size="4.1" font-weight="normal" fill="#222" text-anchor="middle" >7</text>
<text x="454.50" y="623.95" transform="rotate(0.05 454.50 623.95)" font-size="4.1" font-weight="normal" fill="#222" text-anchor="middle" >8</text>
<text x="467.65" y="623.95" transform="rotate(0.05 467.65 623.95)" font-size="4.1" font-weight="normal" fill="#222" text-anchor="middle" >8</text>
<text x="461.00" y="258.77" transform="rotate(0.05 461.00 258.77)" font-size="5.2" font-weight="bold" fill="#000" text-anchor="middle"  stroke="#000" stroke-width="0.114">Out of</text>
<text x="461.00" y="264.62" transform="rotate(0.05 461.00 264.62)" font-size="5.2" font-weight="bold" fill="#000" text-anchor="middle"  stroke="#000" stroke-width="0.114">total</text>
<text x="461.00" y="270.47" transform="rotate(0.05 461.00 270.47)" font-size="5.2" font-weight="bold" fill="#000" text-anchor="middle"  stroke="#000" stroke-width="0.114">15</text>
<text x="461.00" y="276.32" transform="rotate(0.05 461.00 276.32)" font-size="5.2" font-weight="bold" fill="#000" text-anchor="middle"  stroke="#000" stroke-width="0.114">samples:</text>
<line x1="454.50" y1="625.58" x2="454.50" y2="627.58" stroke="#000" stroke-width="0.6" />
<text transform="translate(456.10,628.38) rotate(-89.95)" font-size="5.9" font-weight="bold" text-anchor="end" stroke="#000" stroke-width="0.12">Protein p&lt;0.05</text>
<line x1="467.65" y1="625.58" x2="467.65" y2="627.58" stroke="#000" stroke-width="0.6" />
<text transform="translate(469.25,628.38) rotate(-89.95)" font-size="5.9" font-weight="bold" text-anchor="end" stroke="#000" stroke-width="0.12">mRNA FDR&lt;0.05</text>
<defs><linearGradient id="cb" x1="0" y1="0" x2="0" y2="1"><stop offset="0.00" stop-color="#f26e24"/><stop offset="0.05" stop-color="#f37c37"/><stop offset="0.10" stop-color="#f58b4b"/><stop offset="0.15" stop-color="#f69a5f"/><stop offset="0.20" stop-color="#f7a874"/><stop offset="0.25" stop-color="#f8b68a"/><stop offset="0.30" stop-color="#fac5a0"/><stop offset="0.35" stop-color="#fbd4b7"/><stop offset="0.40" stop-color="#fce2ce"/><stop offset="0.45" stop-color="#fef0e7"/><stop offset="0.50" stop-color="#ffffff"/><stop offset="0.55" stop-color="#e6e5f6"/><stop offset="0.60" stop-color="#cdccee"/><stop offset="0.65" stop-color="#b4b2e8"/><stop offset="0.70" stop-color="#9b98e4"/><stop offset="0.75" stop-color="#827fe3"/><stop offset="0.80" stop-color="#6965e5"/><stop offset="0.85" stop-color="#504bea"/><stop offset="0.90" stop-color="#3631f1"/><stop offset="0.95" stop-color="#1d18f9"/><stop offset="1.00" stop-color="#0e08ff"/></linearGradient></defs>
<rect x="486.3" y="278.5" width="11.3" height="107.7" fill="url(#cb)" stroke="#333" stroke-width="0.5"/>
<text x="501.00" y="280.85" transform="rotate(0.05 501.00 280.85)" font-size="5.7" font-weight="normal" fill="#000" text-anchor="start" >1.0</text>
<line x1="486.30" y1="305.60" x2="487.90" y2="305.60" stroke="#222" stroke-width="0.5" />
<line x1="496.00" y1="305.60" x2="497.60" y2="305.60" stroke="#222" stroke-width="0.5" />
<text x="501.00" y="307.75" transform="rotate(0.05 501.00 307.75)" font-size="5.7" font-weight="normal" fill="#000" text-anchor="start" >0.5</text>
<line x1="486.30" y1="332.50" x2="487.90" y2="332.50" stroke="#222" stroke-width="0.5" />
<line x1="496.00" y1="332.50" x2="497.60" y2="332.50" stroke="#222" stroke-width="0.5" />
<text x="501.00" y="334.65" transform="rotate(0.05 501.00 334.65)" font-size="5.7" font-weight="normal" fill="#000" text-anchor="start" >0</text>
<line x1="486.30" y1="359.40" x2="487.90" y2="359.40" stroke="#222" stroke-width="0.5" />
<line x1="496.00" y1="359.40" x2="497.60" y2="359.40" stroke="#222" stroke-width="0.5" />
<text x="500.00" y="361.55" transform="rotate(0.05 500.00 361.55)" font-size="5.7" font-weight="normal" fill="#000" text-anchor="start" >-0.5</text>
<text x="500.00" y="388.45" transform="rotate(0.05 500.00 388.45)" font-size="5.7" font-weight="normal" fill="#000" text-anchor="start" >-1.0</text>
<text x="492.80" y="262.39" transform="rotate(0.05 492.80 262.39)" font-size="4.7" font-weight="bold" fill="#000" text-anchor="middle"  stroke="#000" stroke-width="0.103">LFC</text>
<text x="492.80" y="268.24" transform="rotate(0.05 492.80 268.24)" font-size="4.7" font-weight="bold" fill="#000" text-anchor="middle"  stroke="#000" stroke-width="0.103">color</text>
<text x="492.80" y="274.09" transform="rotate(0.05 492.80 274.09)" font-size="4.7" font-weight="bold" fill="#000" text-anchor="middle"  stroke="#000" stroke-width="0.103">range:</text>
</g>
</svg>
</body></html>
